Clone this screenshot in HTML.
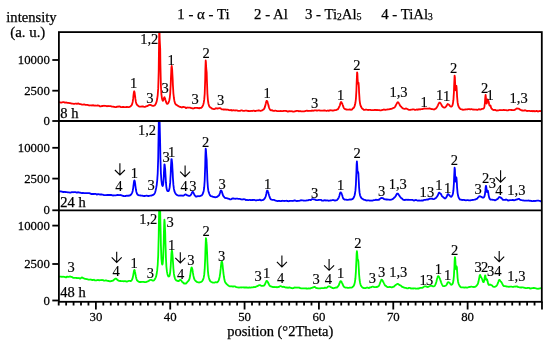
<!DOCTYPE html><html><head><meta charset="utf-8"><style>html,body{margin:0;padding:0;background:#fff;width:550px;height:348px;overflow:hidden}svg{display:block}text{font-family:"Liberation Serif","Times New Roman",serif;fill:#000;stroke:#000;stroke-width:0.25px}text.p{stroke-width:0.15px}</style></head><body>
<svg width="550" height="348" viewBox="0 0 550 348">
<defs><clipPath id="c1"><rect x="58.5" y="32" width="484" height="89"/></clipPath><clipPath id="c2"><rect x="58.5" y="121.2" width="484" height="89.5"/></clipPath><clipPath id="c3"><rect x="58.5" y="210.5" width="484" height="91.5"/></clipPath></defs>
<g clip-path="url(#c1)"><polyline points="58.4,102.3 58.6,102.2 58.9,102.1 59.1,102.1 59.4,102.2 59.6,102.3 59.9,102.3 60.1,102.4 60.4,102.5 60.6,102.5 60.9,102.6 61.1,102.6 61.4,102.6 61.6,102.5 61.9,102.4 62.1,102.4 62.4,102.3 62.6,102.2 62.9,102.2 63.1,102.2 63.4,102.2 63.6,102.2 63.9,102.2 64.2,102.3 64.4,102.4 64.7,102.6 64.9,102.7 65.2,102.7 65.4,102.6 65.7,102.5 65.9,102.5 66.2,102.5 66.4,102.6 66.7,102.7 66.9,102.7 67.2,102.8 67.4,102.8 67.7,102.8 67.9,102.8 68.2,102.8 68.4,102.9 68.7,102.9 68.9,103.0 69.2,103.0 69.4,103.1 69.7,103.1 69.9,103.1 70.2,103.2 70.4,103.2 70.7,103.3 70.9,103.3 71.2,103.4 71.4,103.5 71.7,103.6 71.9,103.7 72.2,103.7 72.4,103.7 72.7,103.7 72.9,103.7 73.2,103.7 73.4,103.8 73.7,103.8 73.9,103.9 74.2,103.9 74.4,103.8 74.7,103.8 74.9,103.7 75.2,103.7 75.4,103.7 75.7,103.6 75.9,103.6 76.2,103.6 76.4,103.7 76.7,103.8 76.9,103.8 77.2,103.8 77.4,103.6 77.7,103.5 77.9,103.3 78.2,103.4 78.4,103.5 78.7,103.6 78.9,103.8 79.2,103.9 79.4,104.0 79.7,104.1 79.9,104.2 80.2,104.2 80.4,104.2 80.7,104.2 80.9,104.2 81.2,104.3 81.4,104.4 81.7,104.5 81.9,104.6 82.2,104.7 82.4,104.7 82.7,104.7 82.9,104.7 83.2,104.7 83.4,104.6 83.7,104.5 83.9,104.4 84.2,104.4 84.4,104.5 84.7,104.6 84.9,104.7 85.2,104.8 85.4,104.8 85.7,104.8 85.9,104.8 86.2,104.8 86.4,104.8 86.7,104.9 86.9,104.9 87.2,104.9 87.4,104.9 87.7,105.0 87.9,105.0 88.2,105.1 88.4,105.2 88.7,105.3 88.9,105.4 89.2,105.5 89.4,105.4 89.7,105.4 89.9,105.4 90.2,105.4 90.4,105.4 90.7,105.4 90.9,105.4 91.2,105.4 91.4,105.4 91.7,105.5 91.9,105.5 92.2,105.5 92.4,105.4 92.7,105.2 92.9,105.1 93.2,105.2 93.4,105.3 93.7,105.5 93.9,105.6 94.2,105.7 94.4,105.6 94.7,105.5 94.9,105.5 95.2,105.5 95.4,105.6 95.7,105.7 95.9,105.7 96.2,105.7 96.4,105.7 96.7,105.6 96.9,105.6 97.2,105.5 97.4,105.5 97.7,105.5 97.9,105.5 98.2,105.5 98.4,105.6 98.7,105.6 98.9,105.7 99.2,105.8 99.4,105.9 99.7,106.1 99.9,106.3 100.2,106.3 100.4,106.3 100.7,106.3 100.9,106.3 101.2,106.3 101.4,106.2 101.7,106.1 101.9,106.0 102.2,106.0 102.4,106.0 102.7,106.0 102.9,105.9 103.2,105.9 103.4,105.9 103.7,105.8 103.9,105.7 104.2,105.8 104.4,105.8 104.7,105.9 104.9,105.9 105.2,105.9 105.4,105.9 105.7,105.9 105.9,105.9 106.2,106.0 106.4,106.1 106.7,106.2 106.9,106.3 107.2,106.3 107.4,106.2 107.7,106.1 107.9,106.0 108.2,106.0 108.4,106.1 108.7,106.1 108.9,106.1 109.2,106.1 109.4,106.1 109.7,106.1 109.9,106.1 110.2,106.1 110.4,106.2 110.7,106.2 110.9,106.2 111.2,106.3 111.4,106.4 111.7,106.5 111.9,106.6 112.2,106.6 112.4,106.6 112.7,106.7 112.9,106.7 113.2,106.7 113.4,106.7 113.7,106.8 113.9,106.8 114.2,106.9 114.4,106.9 114.7,107.0 114.9,107.0 115.2,107.1 115.4,107.1 115.7,107.1 115.9,107.1 116.2,107.1 116.4,106.9 116.7,106.8 116.9,106.6 117.2,106.6 117.4,106.7 117.7,106.7 117.9,106.8 118.2,106.7 118.4,106.6 118.7,106.5 118.9,106.4 119.2,106.4 119.4,106.5 119.7,106.5 119.9,106.6 120.2,106.7 120.4,106.9 120.7,107.0 120.9,107.2 121.2,107.2 121.4,107.2 121.7,107.1 121.9,107.1 122.2,107.1 122.4,107.0 122.7,107.0 122.9,107.0 123.2,107.0 123.4,107.0 123.7,107.0 123.9,107.1 124.2,107.1 124.4,107.1 124.7,107.1 124.9,107.1 125.2,107.1 125.4,107.1 125.7,107.1 125.9,107.1 126.2,107.1 126.4,107.0 126.7,107.0 126.9,106.9 127.2,106.9 127.4,107.0 127.7,107.1 127.9,107.1 128.2,107.2 128.4,107.2 128.7,107.1 128.9,107.1 129.2,107.0 129.4,106.9 129.7,106.8 129.9,106.6 130.2,106.5 130.4,106.3 130.7,106.2 130.9,106.0 131.2,105.7 131.4,105.4 131.7,105.1 131.9,104.6 132.2,103.9 132.4,103.1 132.7,101.9 132.9,100.3 133.2,98.4 133.4,96.1 133.7,93.7 133.9,92.0 134.2,91.3 134.4,91.8 134.7,93.0 134.9,94.8 135.2,96.9 135.4,98.9 135.7,100.6 135.9,102.0 136.2,103.0 136.4,103.7 136.7,104.2 136.9,104.6 137.2,104.9 137.4,105.2 137.7,105.4 137.9,105.6 138.2,105.8 138.4,106.0 138.7,106.2 138.9,106.4 139.2,106.5 139.4,106.6 139.7,106.7 139.9,106.7 140.2,106.7 140.4,106.7 140.7,106.7 140.9,106.7 141.2,106.6 141.4,106.6 141.7,106.5 141.9,106.4 142.2,106.4 142.4,106.5 142.7,106.5 142.9,106.5 143.2,106.5 143.4,106.6 143.7,106.7 143.9,106.8 144.2,106.8 144.4,106.9 144.7,106.9 144.9,106.9 145.2,106.8 145.4,106.7 145.7,106.5 145.9,106.4 146.2,106.3 146.4,106.3 146.7,106.2 146.9,106.2 147.2,106.1 147.4,105.9 147.7,105.8 147.9,105.6 148.2,105.5 148.4,105.3 148.7,105.2 148.9,105.1 149.2,105.0 149.4,105.0 149.7,104.9 149.9,104.9 150.2,104.9 150.4,105.0 150.7,105.0 150.9,105.1 151.2,105.2 151.4,105.3 151.7,105.5 151.9,105.6 152.2,105.7 152.4,105.8 152.7,105.8 152.9,105.9 153.2,105.9 153.4,105.9 153.7,105.8 153.9,105.7 154.2,105.6 154.4,105.5 154.7,105.4 154.9,105.2 155.2,104.9 155.4,104.5 155.7,104.0 155.9,103.5 156.2,102.9 156.4,102.2 156.7,101.3 156.9,100.2 157.2,99.0 157.4,97.4 157.7,95.3 157.9,92.5 158.2,88.4 158.4,82.1 158.7,71.3 158.9,54.0 159.2,33.0 159.4,27.7 159.7,39.1 159.9,43.4 160.2,48.8 160.4,64.0 160.7,77.3 160.9,85.7 161.2,90.8 161.4,94.1 161.7,96.4 161.9,98.1 162.2,99.3 162.4,100.1 162.7,100.6 162.9,100.8 163.2,100.6 163.4,100.0 163.7,99.1 163.9,98.2 164.2,97.5 164.4,97.2 164.7,97.5 164.9,98.1 165.2,98.9 165.4,99.8 165.7,100.7 165.9,101.6 166.2,102.3 166.4,102.9 166.7,103.4 166.9,103.7 167.2,103.8 167.4,103.8 167.7,103.7 167.9,103.5 168.2,103.2 168.4,102.8 168.7,102.2 168.9,101.5 169.2,100.7 169.4,99.7 169.7,98.3 169.9,96.3 170.2,93.5 170.4,89.7 170.7,84.7 170.9,78.7 171.2,72.3 171.4,67.4 171.7,66.0 171.9,67.4 172.2,70.2 172.4,74.2 172.7,79.5 172.9,85.0 173.2,89.7 173.4,93.3 173.7,96.0 173.9,98.0 174.2,99.6 174.4,100.9 174.7,102.0 174.9,102.9 175.2,103.5 175.4,103.9 175.7,104.3 175.9,104.5 176.2,104.7 176.4,104.9 176.7,105.0 176.9,105.1 177.2,105.3 177.4,105.5 177.7,105.7 177.9,105.8 178.2,106.0 178.4,106.2 178.7,106.3 178.9,106.4 179.2,106.5 179.4,106.7 179.7,106.8 179.9,106.9 180.2,106.9 180.4,107.0 180.7,107.0 180.9,107.1 181.2,107.2 181.4,107.3 181.7,107.4 181.9,107.5 182.2,107.4 182.4,107.2 182.7,107.1 182.9,106.9 183.2,106.9 183.4,106.9 183.7,107.0 183.9,107.0 184.2,107.1 184.4,107.2 184.7,107.2 184.9,107.3 185.2,107.4 185.4,107.6 185.7,107.8 185.9,108.0 186.2,108.0 186.4,107.8 186.7,107.7 186.9,107.6 187.2,107.5 187.4,107.6 187.7,107.6 187.9,107.7 188.2,107.7 188.4,107.6 188.7,107.6 188.9,107.6 189.2,107.6 189.4,107.6 189.7,107.6 189.9,107.6 190.2,107.7 190.4,107.8 190.7,107.9 190.9,108.0 191.2,108.1 191.4,108.1 191.7,108.1 191.9,108.2 192.2,108.3 192.4,108.4 192.7,108.4 192.9,108.5 193.2,108.5 193.4,108.4 193.7,108.3 193.9,108.1 194.2,108.1 194.4,108.0 194.7,108.0 194.9,107.9 195.2,107.9 195.4,107.9 195.7,107.9 195.9,107.9 196.2,107.9 196.4,107.9 196.7,107.9 196.9,107.9 197.2,108.0 197.4,108.0 197.7,107.9 197.9,107.9 198.2,108.0 198.4,108.1 198.7,108.2 198.9,108.3 199.2,108.3 199.4,108.1 199.7,108.0 199.9,107.9 200.2,107.9 200.4,107.9 200.7,108.0 200.9,108.0 201.2,107.9 201.4,107.7 201.7,107.4 201.9,107.1 202.2,106.8 202.4,106.4 202.7,106.0 202.9,105.4 203.2,104.8 203.4,104.0 203.7,103.0 203.9,101.7 204.2,99.9 204.4,97.4 204.7,93.7 204.9,87.9 205.2,79.4 205.4,68.6 205.7,60.5 205.9,62.1 206.2,67.7 206.4,69.9 206.7,72.5 206.9,79.7 207.2,87.5 207.4,93.5 207.7,97.5 207.9,100.1 208.2,102.0 208.4,103.4 208.7,104.5 208.9,105.4 209.2,106.0 209.4,106.5 209.7,106.8 209.9,107.1 210.2,107.3 210.4,107.5 210.7,107.6 210.9,107.7 211.2,107.9 211.4,108.1 211.7,108.4 211.9,108.6 212.2,108.7 212.4,108.7 212.7,108.8 212.9,108.8 213.2,108.8 213.4,109.0 213.7,109.1 213.9,109.2 214.2,109.1 214.4,109.1 214.7,109.0 214.9,108.9 215.2,108.7 215.4,108.5 215.7,108.4 215.9,108.2 216.2,108.2 216.4,108.3 216.7,108.4 216.9,108.5 217.2,108.5 217.4,108.5 217.7,108.5 217.9,108.4 218.2,108.4 218.4,108.3 218.7,108.3 218.9,108.3 219.2,108.2 219.4,108.1 219.7,108.1 219.9,108.1 220.2,108.2 220.4,108.3 220.7,108.5 220.9,108.7 221.2,108.8 221.4,109.0 221.7,109.1 221.9,109.3 222.2,109.4 222.4,109.4 222.7,109.4 222.9,109.4 223.2,109.5 223.4,109.5 223.7,109.5 223.9,109.6 224.2,109.6 224.4,109.5 224.7,109.5 224.9,109.4 225.2,109.4 225.4,109.5 225.7,109.6 225.9,109.7 226.2,109.8 226.4,109.7 226.7,109.7 226.9,109.7 227.2,109.7 227.4,109.7 227.7,109.7 227.9,109.7 228.2,109.8 228.4,109.9 228.7,110.0 228.9,110.0 229.2,110.1 229.4,110.2 229.7,110.2 229.9,110.3 230.2,110.3 230.4,110.2 230.7,110.1 230.9,110.0 231.2,110.0 231.4,110.2 231.7,110.3 231.9,110.5 232.2,110.5 232.4,110.4 232.7,110.3 232.9,110.2 233.2,110.2 233.4,110.2 233.7,110.3 233.9,110.3 234.2,110.4 234.4,110.4 234.7,110.4 234.9,110.5 235.2,110.5 235.4,110.5 235.7,110.4 235.9,110.4 236.2,110.4 236.4,110.4 236.7,110.4 236.9,110.4 237.2,110.5 237.4,110.6 237.7,110.7 237.9,110.8 238.2,110.9 238.4,110.9 238.7,110.9 238.9,110.9 239.2,110.9 239.4,110.9 239.7,110.9 239.9,110.8 240.2,110.8 240.4,110.6 240.7,110.5 240.9,110.3 241.2,110.3 241.4,110.3 241.7,110.3 241.9,110.4 242.2,110.4 242.4,110.6 242.7,110.7 242.9,110.8 243.2,110.9 243.4,110.9 243.7,110.9 243.9,110.9 244.2,110.9 244.4,110.8 244.7,110.8 244.9,110.7 245.2,110.7 245.4,110.7 245.7,110.7 245.9,110.6 246.2,110.7 246.4,110.7 246.7,110.7 246.9,110.7 247.2,110.8 247.4,110.8 247.7,110.9 247.9,111.0 248.2,111.0 248.4,111.0 248.7,111.0 248.9,111.0 249.2,111.0 249.4,111.1 249.7,111.1 249.9,111.2 250.2,111.1 250.4,111.0 250.7,110.9 250.9,110.8 251.2,110.8 251.4,110.9 251.7,110.9 251.9,111.0 252.2,111.0 252.4,110.9 252.7,110.9 252.9,110.8 253.2,110.7 253.4,110.7 253.7,110.7 253.9,110.7 254.2,110.7 254.4,110.8 254.7,111.0 254.9,111.1 255.2,111.1 255.4,111.0 255.7,111.0 255.9,110.9 256.1,110.8 256.4,110.8 256.6,110.7 256.9,110.7 257.1,110.7 257.4,110.6 257.6,110.6 257.9,110.6 258.1,110.5 258.4,110.5 258.6,110.5 258.9,110.4 259.1,110.5 259.4,110.5 259.6,110.6 259.9,110.7 260.1,110.8 260.4,110.8 260.6,110.8 260.9,110.8 261.1,110.7 261.4,110.7 261.6,110.6 261.9,110.5 262.1,110.4 262.4,110.2 262.6,110.1 262.9,109.9 263.1,109.8 263.4,109.6 263.6,109.4 263.9,109.2 264.1,108.8 264.4,108.3 264.6,107.8 264.9,107.1 265.1,106.3 265.4,105.4 265.6,104.3 265.9,103.2 266.1,102.2 266.4,101.4 266.6,100.9 266.9,100.8 267.1,101.1 267.4,101.5 267.6,102.2 267.9,103.0 268.1,104.0 268.4,105.0 268.6,106.1 268.9,107.0 269.1,107.8 269.4,108.4 269.6,108.9 269.9,109.4 270.1,109.7 270.4,110.0 270.6,110.2 270.9,110.3 271.1,110.4 271.4,110.3 271.6,110.2 271.9,110.1 272.1,110.1 272.4,110.4 272.6,110.6 272.9,110.8 273.1,110.9 273.4,110.9 273.6,110.9 273.9,110.9 274.1,110.9 274.4,110.9 274.6,110.8 274.9,110.7 275.1,110.7 275.4,110.7 275.6,110.7 275.9,110.7 276.1,110.8 276.4,110.9 276.6,110.9 276.9,111.0 277.1,111.1 277.4,111.1 277.6,111.2 277.9,111.2 278.1,111.2 278.4,111.2 278.6,111.2 278.9,111.2 279.1,111.2 279.4,111.2 279.6,111.1 279.9,111.1 280.1,111.1 280.4,111.0 280.6,111.0 280.9,111.0 281.1,111.0 281.4,111.1 281.6,111.1 281.9,111.2 282.1,111.2 282.4,111.1 282.6,111.1 282.9,111.1 283.1,111.0 283.4,111.0 283.6,110.9 283.9,110.9 284.1,110.8 284.4,110.8 284.6,110.8 284.9,110.8 285.1,110.9 285.4,110.9 285.6,110.9 285.9,111.0 286.1,111.0 286.4,111.0 286.6,111.1 286.9,111.1 287.1,111.2 287.4,111.4 287.6,111.5 287.9,111.7 288.1,111.6 288.4,111.5 288.6,111.3 288.9,111.2 289.1,111.1 289.4,111.2 289.6,111.2 289.9,111.3 290.1,111.3 290.4,111.3 290.6,111.2 290.9,111.2 291.1,111.2 291.4,111.2 291.6,111.3 291.9,111.3 292.1,111.3 292.4,111.4 292.6,111.5 292.9,111.5 293.1,111.6 293.4,111.6 293.6,111.6 293.9,111.6 294.1,111.6 294.4,111.5 294.6,111.4 294.9,111.3 295.1,111.3 295.4,111.2 295.6,111.1 295.9,111.1 296.1,111.0 296.4,110.9 296.6,110.8 296.9,110.8 297.1,110.8 297.4,110.8 297.6,110.8 297.9,110.9 298.1,111.0 298.4,111.1 298.6,111.2 298.9,111.3 299.1,111.3 299.4,111.2 299.6,111.2 299.9,111.1 300.1,111.1 300.4,111.2 300.6,111.2 300.9,111.3 301.1,111.3 301.4,111.3 301.6,111.3 301.9,111.3 302.1,111.3 302.4,111.3 302.6,111.3 302.9,111.3 303.1,111.3 303.4,111.3 303.6,111.4 303.9,111.4 304.1,111.4 304.4,111.3 304.6,111.2 304.9,111.2 305.1,111.1 305.4,111.0 305.6,111.0 305.9,110.9 306.1,110.8 306.4,110.8 306.6,110.7 306.9,110.6 307.1,110.7 307.4,110.8 307.6,110.9 307.9,111.0 308.1,111.0 308.4,110.9 308.6,110.9 308.9,110.9 309.1,110.8 309.4,110.8 309.6,110.8 309.9,110.8 310.1,110.8 310.4,110.8 310.6,110.9 310.9,110.9 311.1,110.9 311.4,110.8 311.6,110.6 311.9,110.5 312.1,110.5 312.4,110.6 312.6,110.7 312.9,110.8 313.1,110.8 313.4,110.7 313.6,110.7 313.9,110.7 314.1,110.6 314.4,110.5 314.6,110.4 314.9,110.3 315.1,110.3 315.4,110.3 315.6,110.3 315.9,110.3 316.1,110.3 316.4,110.4 316.6,110.6 316.9,110.7 317.1,110.7 317.4,110.6 317.6,110.5 317.9,110.4 318.1,110.4 318.4,110.4 318.6,110.4 318.9,110.4 319.1,110.4 319.4,110.4 319.6,110.5 319.9,110.5 320.1,110.5 320.4,110.6 320.6,110.6 320.9,110.6 321.1,110.6 321.4,110.6 321.6,110.6 321.9,110.6 322.1,110.6 322.4,110.6 322.6,110.6 322.9,110.6 323.1,110.6 323.4,110.6 323.6,110.5 323.9,110.5 324.1,110.5 324.4,110.5 324.6,110.5 324.9,110.5 325.1,110.5 325.4,110.6 325.6,110.7 325.9,110.7 326.1,110.8 326.4,110.8 326.6,110.8 326.9,110.8 327.1,110.7 327.4,110.7 327.6,110.6 327.9,110.5 328.1,110.6 328.4,110.7 328.6,110.8 328.9,110.9 329.1,110.8 329.4,110.6 329.6,110.4 329.9,110.2 330.1,110.2 330.4,110.2 330.6,110.3 330.9,110.3 331.1,110.3 331.4,110.4 331.6,110.4 331.9,110.5 332.1,110.5 332.4,110.5 332.6,110.6 332.9,110.6 333.1,110.6 333.4,110.5 333.6,110.5 333.9,110.4 334.1,110.4 334.4,110.3 334.6,110.2 334.9,110.1 335.1,110.1 335.4,110.1 335.6,110.1 335.9,110.1 336.1,110.0 336.4,109.9 336.6,109.8 336.9,109.7 337.1,109.6 337.4,109.5 337.6,109.4 337.9,109.3 338.1,109.0 338.4,108.5 338.6,108.0 338.9,107.5 339.1,107.0 339.4,106.5 339.6,106.0 339.9,105.3 340.1,104.5 340.4,103.6 340.6,102.7 340.9,102.2 341.1,102.0 341.4,102.1 341.6,102.5 341.9,103.0 342.1,103.5 342.4,104.0 342.6,104.7 342.9,105.5 343.1,106.2 343.4,106.9 343.6,107.5 343.9,108.0 344.1,108.3 344.4,108.6 344.6,108.8 344.9,108.9 345.1,109.0 345.4,109.2 345.6,109.3 345.9,109.4 346.1,109.5 346.4,109.5 346.6,109.5 346.9,109.5 347.1,109.6 347.4,109.6 347.6,109.6 347.9,109.7 348.1,109.7 348.4,109.7 348.6,109.7 348.9,109.7 349.1,109.6 349.4,109.5 349.6,109.5 349.9,109.4 350.1,109.5 350.4,109.6 350.6,109.7 350.9,109.8 351.1,109.8 351.4,109.7 351.6,109.7 351.9,109.6 352.1,109.4 352.4,109.1 352.6,108.7 352.9,108.4 353.1,108.2 353.4,108.1 353.6,107.9 353.9,107.7 354.1,107.3 354.4,106.7 354.6,106.0 354.9,105.1 355.1,104.2 355.4,103.0 355.6,101.3 355.9,99.0 356.1,95.6 356.4,90.6 356.6,84.2 356.9,77.0 357.1,72.3 357.4,73.7 357.6,78.7 357.9,82.6 358.1,83.5 358.4,82.5 358.6,83.3 358.9,87.5 359.1,92.6 359.4,96.9 359.6,100.1 359.9,102.3 360.1,103.8 360.4,104.9 360.6,105.7 360.9,106.3 361.1,106.8 361.4,107.3 361.6,107.7 361.9,108.1 362.1,108.4 362.4,108.6 362.6,108.8 362.9,109.0 363.1,109.3 363.4,109.5 363.6,109.7 363.9,109.9 364.1,109.9 364.4,109.9 364.6,109.9 364.9,109.8 365.1,109.8 365.4,109.7 365.6,109.7 365.9,109.6 366.1,109.6 366.4,109.6 366.6,109.7 366.9,109.7 367.1,109.8 367.4,109.9 367.6,109.9 367.9,110.0 368.1,110.0 368.4,110.0 368.6,109.9 368.9,109.9 369.1,109.8 369.4,109.8 369.6,109.8 369.9,109.8 370.1,109.8 370.4,109.9 370.6,110.0 370.9,110.1 371.1,110.1 371.4,110.1 371.6,110.1 371.9,110.1 372.1,110.1 372.4,110.2 372.6,110.2 372.9,110.2 373.1,110.2 373.4,110.1 373.6,110.1 373.9,110.1 374.1,110.0 374.4,110.0 374.6,110.0 374.9,109.9 375.1,109.9 375.4,110.0 375.6,110.0 375.9,110.0 376.1,110.0 376.4,110.0 376.6,110.0 376.9,110.1 377.1,110.1 377.4,110.1 377.6,110.0 377.9,110.0 378.1,110.1 378.4,110.1 378.6,110.1 378.9,110.2 379.1,110.2 379.4,110.2 379.6,110.2 379.9,110.3 380.1,110.3 380.4,110.3 380.6,110.3 380.9,110.3 381.1,110.3 381.4,110.2 381.6,110.2 381.9,110.2 382.1,110.1 382.4,110.0 382.6,109.9 382.9,109.8 383.1,109.8 383.4,109.7 383.6,109.6 383.9,109.5 384.1,109.6 384.4,109.6 384.6,109.7 384.9,109.8 385.1,109.8 385.4,109.8 385.6,109.8 385.9,109.7 386.1,109.7 386.4,109.7 386.6,109.7 386.9,109.7 387.1,109.6 387.4,109.5 387.6,109.4 387.9,109.3 388.1,109.3 388.4,109.3 388.6,109.3 388.9,109.3 389.1,109.3 389.4,109.2 389.6,109.2 389.9,109.1 390.1,109.1 390.4,109.0 390.6,109.0 390.9,108.9 391.1,108.9 391.4,108.8 391.6,108.8 391.9,108.7 392.1,108.6 392.4,108.5 392.6,108.3 392.9,108.2 393.1,108.1 393.4,108.0 393.6,107.9 393.9,107.8 394.1,107.7 394.4,107.5 394.6,107.3 394.9,107.1 395.1,106.8 395.4,106.3 395.6,105.8 395.9,105.2 396.1,104.7 396.4,104.2 396.6,103.8 396.9,103.3 397.1,102.9 397.4,102.6 397.6,102.3 397.9,102.2 398.1,102.3 398.4,102.5 398.6,102.8 398.9,103.2 399.1,103.6 399.4,104.1 399.6,104.7 399.9,105.2 400.1,105.6 400.4,105.9 400.6,106.2 400.9,106.4 401.1,106.6 401.4,106.9 401.6,107.2 401.9,107.4 402.1,107.7 402.4,107.9 402.6,108.2 402.9,108.4 403.1,108.5 403.4,108.6 403.6,108.7 403.9,108.7 404.1,108.8 404.4,108.8 404.6,108.8 404.9,108.9 405.1,108.8 405.4,108.7 405.6,108.6 405.9,108.5 406.1,108.5 406.4,108.6 406.6,108.7 406.9,108.8 407.1,108.9 407.4,109.1 407.6,109.2 407.9,109.3 408.1,109.5 408.4,109.6 408.6,109.7 408.9,109.8 409.1,109.9 409.4,109.9 409.6,109.9 409.9,109.9 410.1,109.9 410.4,109.8 410.6,109.8 410.9,109.7 411.1,109.7 411.4,109.7 411.6,109.7 411.9,109.6 412.1,109.6 412.4,109.5 412.6,109.4 412.9,109.3 413.1,109.3 413.4,109.3 413.6,109.4 413.9,109.4 414.1,109.4 414.4,109.6 414.6,109.7 414.9,109.9 415.1,109.9 415.4,109.9 415.6,109.8 415.9,109.8 416.1,109.7 416.4,109.6 416.6,109.5 416.9,109.4 417.1,109.5 417.4,109.6 417.6,109.7 417.9,109.8 418.1,109.7 418.4,109.5 418.6,109.4 418.9,109.2 419.1,109.2 419.4,109.3 419.6,109.4 419.9,109.5 420.1,109.5 420.4,109.4 420.6,109.3 420.9,109.2 421.1,109.2 421.4,109.2 421.6,109.1 421.9,109.1 422.1,109.1 422.4,109.0 422.6,109.0 422.9,109.0 423.1,108.9 423.4,108.8 423.6,108.7 423.9,108.6 424.1,108.5 424.4,108.5 424.6,108.6 424.9,108.7 425.1,108.7 425.4,108.7 425.6,108.6 425.9,108.6 426.1,108.6 426.4,108.7 426.6,108.7 426.9,108.7 427.1,108.7 427.4,108.7 427.6,108.7 427.9,108.7 428.1,108.7 428.4,108.6 428.6,108.6 428.9,108.5 429.1,108.5 429.4,108.5 429.6,108.5 429.9,108.5 430.1,108.6 430.4,108.7 430.6,108.8 430.9,108.9 431.1,109.0 431.4,109.0 431.6,109.1 431.9,109.1 432.1,109.1 432.4,109.2 432.6,109.2 432.9,109.2 433.1,109.3 433.4,109.4 433.6,109.4 433.9,109.5 434.1,109.5 434.4,109.4 434.6,109.2 434.9,109.1 435.1,109.0 435.4,108.8 435.6,108.7 435.9,108.5 436.1,108.3 436.4,107.9 436.6,107.6 436.9,107.2 437.1,106.8 437.4,106.4 437.6,105.9 437.9,105.3 438.1,104.8 438.4,104.2 438.6,103.7 438.9,103.2 439.1,102.8 439.4,102.6 439.6,102.6 439.9,102.7 440.1,102.9 440.4,103.2 440.6,103.4 440.9,103.7 441.1,104.1 441.4,104.6 441.6,105.2 441.9,105.7 442.1,106.2 442.4,106.5 442.6,106.7 442.9,106.9 443.1,107.1 443.4,107.3 443.6,107.4 443.9,107.6 444.1,107.6 444.4,107.6 444.6,107.6 444.9,107.5 445.1,107.4 445.4,107.2 445.6,106.9 445.9,106.6 446.1,106.3 446.4,106.0 446.6,105.6 446.9,105.2 447.1,104.7 447.4,104.3 447.6,104.0 447.9,104.1 448.1,104.2 448.4,104.4 448.6,104.6 448.9,104.8 449.1,104.9 449.4,105.2 449.6,105.5 449.9,105.8 450.1,106.1 450.4,106.4 450.6,106.5 450.9,106.6 451.1,106.6 451.4,106.6 451.6,106.5 451.9,106.3 452.1,105.9 452.4,105.4 452.6,104.7 452.9,103.6 453.1,102.2 453.4,100.2 453.6,97.1 453.9,92.6 454.1,86.6 454.4,79.9 454.6,75.6 454.9,77.3 455.1,82.7 455.4,87.8 455.6,90.3 455.9,89.9 456.1,87.6 456.4,85.9 456.6,87.8 456.9,92.2 457.1,96.6 457.4,100.0 457.6,102.4 457.9,104.0 458.1,105.1 458.4,105.9 458.6,106.6 458.9,107.0 459.1,107.5 459.4,107.9 459.6,108.2 459.9,108.5 460.1,108.7 460.4,108.9 460.6,109.1 460.9,109.2 461.1,109.3 461.4,109.3 461.6,109.3 461.9,109.4 462.1,109.4 462.4,109.5 462.6,109.7 462.9,109.8 463.1,109.8 463.4,109.8 463.6,109.7 463.9,109.7 464.1,109.7 464.4,109.6 464.6,109.6 464.9,109.5 465.1,109.5 465.4,109.5 465.6,109.4 465.9,109.4 466.1,109.4 466.4,109.4 466.6,109.4 466.9,109.4 467.1,109.4 467.4,109.3 467.6,109.3 467.9,109.2 468.1,109.1 468.4,109.1 468.6,109.1 468.9,109.1 469.1,109.1 469.4,109.2 469.6,109.2 469.9,109.3 470.1,109.3 470.4,109.3 470.6,109.3 470.9,109.2 471.1,109.2 471.4,109.2 471.6,109.2 471.9,109.2 472.1,109.3 472.4,109.4 472.6,109.5 472.9,109.6 473.1,109.6 473.4,109.6 473.6,109.5 473.9,109.5 474.1,109.5 474.4,109.6 474.6,109.6 474.9,109.7 475.1,109.7 475.4,109.7 475.6,109.6 475.9,109.6 476.1,109.6 476.4,109.7 476.6,109.7 476.9,109.8 477.1,109.8 477.4,109.8 477.6,109.8 477.9,109.7 478.1,109.6 478.4,109.5 478.6,109.3 478.9,109.2 479.1,109.2 479.4,109.3 479.6,109.4 479.9,109.5 480.1,109.6 480.4,109.5 480.6,109.5 480.9,109.4 481.1,109.3 481.4,109.2 481.6,109.0 481.9,108.9 482.1,108.8 482.4,108.9 482.6,108.9 482.9,108.8 483.1,108.7 483.4,108.6 483.6,108.4 483.9,108.1 484.1,107.6 484.4,106.7 484.6,105.4 484.9,103.2 485.1,99.9 485.4,96.2 485.6,94.8 485.9,97.4 486.1,100.7 486.4,102.9 486.6,103.6 486.9,103.0 487.1,101.1 487.4,99.3 487.6,99.3 487.9,100.4 488.1,100.8 488.4,100.9 488.6,101.5 488.9,102.8 489.1,104.2 489.4,105.2 489.6,105.6 489.9,105.6 490.1,105.3 490.4,105.3 490.6,105.9 490.9,106.9 491.1,107.8 491.4,108.3 491.6,108.7 491.9,108.9 492.1,109.1 492.4,109.3 492.6,109.5 492.9,109.6 493.1,109.8 493.4,109.9 493.6,110.0 493.9,110.2 494.1,110.1 494.4,110.0 494.6,109.9 494.9,109.8 495.1,109.8 495.4,110.0 495.6,110.1 495.9,110.3 496.1,110.4 496.4,110.5 496.6,110.5 496.9,110.6 497.1,110.6 497.4,110.5 497.6,110.4 497.9,110.4 498.1,110.3 498.4,110.3 498.6,110.3 498.9,110.3 499.1,110.2 499.4,110.2 499.6,110.1 499.9,110.0 500.1,110.0 500.4,110.1 500.6,110.1 500.9,110.1 501.1,110.1 501.4,110.1 501.6,110.1 501.9,110.1 502.1,110.1 502.4,110.1 502.6,110.1 502.9,110.1 503.1,110.1 503.4,110.0 503.6,110.0 503.9,109.9 504.1,109.9 504.4,110.0 504.6,110.1 504.9,110.1 505.1,110.1 505.4,110.1 505.6,110.1 505.9,110.1 506.1,110.1 506.4,110.2 506.6,110.3 506.9,110.4 507.1,110.4 507.4,110.4 507.6,110.4 507.9,110.4 508.1,110.3 508.4,110.2 508.6,110.1 508.9,110.0 509.1,109.9 509.4,109.8 509.6,109.8 509.9,109.8 510.1,109.8 510.4,109.8 510.6,109.9 510.9,110.0 511.1,110.0 511.4,110.0 511.6,110.0 511.9,110.0 512.1,110.0 512.4,110.1 512.6,110.1 512.9,110.1 513.1,110.2 513.4,110.2 513.6,110.2 513.9,110.2 514.1,110.1 514.4,110.0 514.6,109.9 514.9,109.8 515.1,109.7 515.4,109.4 515.6,109.2 515.9,109.0 516.1,108.8 516.4,108.7 516.6,108.6 516.9,108.5 517.1,108.4 517.4,108.5 517.6,108.6 517.9,108.7 518.1,108.7 518.4,108.7 518.6,108.7 518.9,108.7 519.1,108.9 519.4,109.1 519.6,109.3 519.9,109.5 520.1,109.7 520.4,109.8 520.6,109.9 520.9,110.0 521.1,110.1 521.4,110.2 521.6,110.4 521.9,110.5 522.1,110.5 522.4,110.5 522.6,110.5 522.9,110.5 523.1,110.5 523.4,110.6 523.6,110.7 523.9,110.7 524.1,110.7 524.4,110.5 524.6,110.4 524.9,110.2 525.1,110.2 525.4,110.4 525.6,110.5 525.9,110.6 526.1,110.7 526.4,110.8 526.6,110.9 526.9,111.0 527.1,111.0 527.4,111.0 527.6,110.9 527.9,110.9 528.1,110.9 528.4,110.9 528.6,110.8 528.9,110.8 529.1,110.9 529.4,110.9 529.6,110.9 529.9,111.0 530.1,111.0 530.4,111.1 530.6,111.1 530.9,111.1 531.1,111.1 531.4,111.1 531.6,111.0 531.9,111.0 532.1,111.0 532.4,111.1 532.6,111.2 532.9,111.3 533.1,111.3 533.4,111.1 533.6,111.0 533.9,110.9 534.1,111.0 534.4,111.1 534.6,111.2 534.9,111.4 535.1,111.3 535.4,111.3 535.6,111.2 535.9,111.1 536.1,111.0 536.4,111.0 536.6,111.0 536.9,111.0 537.1,111.1 537.4,111.2 537.6,111.4 537.9,111.5 538.1,111.5 538.4,111.4 538.6,111.3 538.9,111.2 539.1,111.2 539.4,111.1 539.6,111.0 539.9,110.9 540.1,110.9 540.4,111.0 540.6,111.1 540.9,111.2 541.1,111.2 541.4,111.1 541.6,111.1 541.9,111.1" fill="none" stroke="#ff0000" stroke-width="1.8" stroke-linejoin="round"/></g>
<g clip-path="url(#c2)"><polyline points="58.4,191.2 58.6,191.2 58.9,191.2 59.1,191.3 59.4,191.3 59.6,191.4 59.9,191.5 60.1,191.5 60.4,191.4 60.6,191.4 60.9,191.4 61.1,191.4 61.4,191.5 61.6,191.6 61.9,191.7 62.1,191.7 62.4,191.8 62.6,191.9 62.9,192.0 63.1,192.0 63.4,192.0 63.6,192.0 63.9,192.0 64.2,192.0 64.4,192.0 64.7,191.9 64.9,191.9 65.2,192.0 65.4,192.0 65.7,192.1 65.9,192.2 66.2,192.2 66.4,192.2 66.7,192.2 66.9,192.2 67.2,192.2 67.4,192.3 67.7,192.3 67.9,192.4 68.2,192.4 68.4,192.4 68.7,192.3 68.9,192.3 69.2,192.3 69.4,192.5 69.7,192.6 69.9,192.7 70.2,192.7 70.4,192.6 70.7,192.5 70.9,192.5 71.2,192.4 71.4,192.3 71.7,192.2 71.9,192.2 72.2,192.1 72.4,192.2 72.7,192.2 72.9,192.3 73.2,192.3 73.4,192.2 73.7,192.2 73.9,192.2 74.2,192.2 74.4,192.2 74.7,192.1 74.9,192.1 75.2,192.1 75.4,192.2 75.7,192.2 75.9,192.3 76.2,192.4 76.4,192.5 76.7,192.5 76.9,192.6 77.2,192.6 77.4,192.5 77.7,192.3 77.9,192.2 78.2,192.2 78.4,192.3 78.7,192.4 78.9,192.5 79.2,192.5 79.4,192.6 79.7,192.6 79.9,192.7 80.2,192.7 80.4,192.7 80.7,192.8 80.9,192.8 81.2,192.9 81.4,193.0 81.7,193.1 81.9,193.1 82.2,193.1 82.4,193.0 82.7,193.0 82.9,192.9 83.2,192.9 83.4,193.0 83.7,193.1 83.9,193.2 84.2,193.2 84.4,193.2 84.7,193.2 84.9,193.2 85.2,193.2 85.4,193.2 85.7,193.2 85.9,193.2 86.2,193.2 86.4,193.2 86.7,193.2 86.9,193.2 87.2,193.2 87.4,193.2 87.7,193.2 87.9,193.2 88.2,193.1 88.4,193.1 88.7,193.1 88.9,193.1 89.2,193.1 89.4,193.2 89.7,193.3 89.9,193.3 90.2,193.5 90.4,193.6 90.7,193.7 90.9,193.9 91.2,194.0 91.4,194.0 91.7,194.0 91.9,194.0 92.2,194.0 92.4,194.0 92.7,194.0 92.9,194.0 93.2,194.0 93.4,194.0 93.7,194.0 93.9,194.0 94.2,194.0 94.4,194.0 94.7,193.9 94.9,193.9 95.2,193.9 95.4,193.9 95.7,194.0 95.9,194.0 96.2,194.2 96.4,194.3 96.7,194.4 96.9,194.6 97.2,194.5 97.4,194.4 97.7,194.2 97.9,194.1 98.2,194.1 98.4,194.2 98.7,194.2 98.9,194.3 99.2,194.4 99.4,194.4 99.7,194.5 99.9,194.5 100.2,194.5 100.4,194.5 100.7,194.5 100.9,194.5 101.2,194.5 101.4,194.5 101.7,194.5 101.9,194.5 102.2,194.6 102.4,194.6 102.7,194.7 102.9,194.7 103.2,194.8 103.4,194.9 103.7,195.0 103.9,195.1 104.2,195.1 104.4,195.1 104.7,195.1 104.9,195.1 105.2,195.1 105.4,195.1 105.7,195.1 105.9,195.2 106.2,195.1 106.4,195.1 106.7,195.0 106.9,195.0 107.2,195.0 107.4,195.0 107.7,195.0 107.9,195.0 108.2,195.0 108.4,195.0 108.7,195.0 108.9,195.0 109.2,195.0 109.4,195.0 109.7,195.0 109.9,195.0 110.2,195.0 110.4,195.0 110.7,195.0 110.9,194.9 111.2,195.0 111.4,195.0 111.7,195.1 111.9,195.2 112.2,195.3 112.4,195.4 112.7,195.4 112.9,195.5 113.2,195.5 113.4,195.5 113.7,195.4 113.9,195.4 114.2,195.3 114.4,195.3 114.7,195.3 114.9,195.3 115.2,195.3 115.4,195.3 115.7,195.3 115.9,195.3 116.2,195.3 116.4,195.2 116.7,195.1 116.9,195.1 117.2,195.0 117.4,195.0 117.7,195.0 117.9,195.0 118.2,195.0 118.4,195.0 118.7,195.1 118.9,195.1 119.2,195.1 119.4,195.1 119.7,195.1 119.9,195.0 120.2,195.0 120.4,195.0 120.7,195.1 120.9,195.1 121.2,195.1 121.4,195.3 121.7,195.4 121.9,195.5 122.2,195.6 122.4,195.7 122.7,195.8 122.9,195.8 123.2,195.9 123.4,196.0 123.7,196.0 123.9,196.1 124.2,196.1 124.4,196.1 124.7,196.1 124.9,196.1 125.2,196.0 125.4,196.0 125.7,196.0 125.9,196.0 126.2,195.9 126.4,195.8 126.7,195.7 126.9,195.6 127.2,195.6 127.4,195.7 127.7,195.8 127.9,195.9 128.2,195.9 128.4,195.8 128.7,195.6 128.9,195.5 129.2,195.5 129.4,195.5 129.7,195.5 129.9,195.5 130.2,195.3 130.4,195.1 130.7,194.9 130.9,194.6 131.2,194.3 131.4,194.0 131.7,193.6 131.9,193.2 132.2,192.6 132.4,191.9 132.7,190.9 132.9,189.7 133.2,188.1 133.4,186.2 133.7,184.1 133.9,182.1 134.2,180.8 134.4,180.4 134.7,180.9 134.9,182.0 135.2,183.8 135.4,185.8 135.7,187.8 135.9,189.5 136.2,190.9 136.4,192.0 136.7,192.8 136.9,193.5 137.2,194.0 137.4,194.4 137.7,194.6 137.9,194.9 138.2,195.0 138.4,195.2 138.7,195.2 138.9,195.3 139.2,195.4 139.4,195.4 139.7,195.4 139.9,195.4 140.2,195.4 140.4,195.5 140.7,195.5 140.9,195.6 141.2,195.6 141.4,195.6 141.7,195.6 141.9,195.6 142.2,195.7 142.4,195.7 142.7,195.8 142.9,195.8 143.2,195.8 143.4,195.9 143.7,196.0 143.9,196.1 144.2,196.1 144.4,196.0 144.7,196.0 144.9,196.0 145.2,195.9 145.4,195.9 145.7,195.8 145.9,195.8 146.2,195.7 146.4,195.7 146.7,195.7 146.9,195.7 147.2,195.7 147.4,195.8 147.7,195.9 147.9,196.0 148.2,196.0 148.4,196.0 148.7,196.0 148.9,195.9 149.2,195.8 149.4,195.8 149.7,195.8 149.9,195.7 150.2,195.7 150.4,195.6 150.7,195.6 150.9,195.6 151.2,195.5 151.4,195.5 151.7,195.5 151.9,195.4 152.2,195.3 152.4,195.2 152.7,195.1 152.9,194.9 153.2,194.8 153.4,194.6 153.7,194.5 153.9,194.3 154.2,194.0 154.4,193.7 154.7,193.2 154.9,192.8 155.2,192.1 155.4,191.2 155.7,190.2 155.9,189.1 156.2,187.9 156.4,186.7 156.7,185.1 156.9,183.2 157.2,180.8 157.4,177.8 157.7,173.5 157.9,167.3 158.2,158.0 158.4,144.7 158.7,128.4 158.9,114.5 159.2,112.2 159.4,118.3 159.7,123.9 159.9,132.7 160.2,145.6 160.4,157.7 160.7,166.8 160.9,173.2 161.2,177.6 161.4,180.5 161.7,182.7 161.9,184.2 162.2,185.2 162.4,185.8 162.7,186.0 162.9,185.5 163.2,184.2 163.4,181.8 163.7,178.0 163.9,173.0 164.2,167.7 164.4,164.4 164.7,164.8 164.9,166.8 165.2,169.5 165.4,173.4 165.7,178.1 165.9,182.2 166.2,185.3 166.4,187.5 166.7,188.9 166.9,189.9 167.2,190.5 167.4,190.9 167.7,191.1 167.9,191.2 168.2,191.2 168.4,191.1 168.7,190.8 168.9,190.3 169.2,189.6 169.4,188.6 169.7,187.2 169.9,185.2 170.2,182.4 170.4,178.6 170.7,173.7 170.9,168.0 171.2,162.4 171.4,159.1 171.7,159.1 171.9,161.0 172.2,163.9 172.4,168.1 172.7,173.1 172.9,177.9 173.2,181.9 173.4,184.9 173.7,187.2 173.9,188.9 174.2,190.1 174.4,191.1 174.7,191.8 174.9,192.4 175.2,192.9 175.4,193.4 175.7,193.8 175.9,194.1 176.2,194.4 176.4,194.6 176.7,194.8 176.9,195.0 177.2,195.1 177.4,195.2 177.7,195.3 177.9,195.4 178.2,195.5 178.4,195.6 178.7,195.7 178.9,195.7 179.2,195.7 179.4,195.7 179.7,195.6 179.9,195.5 180.2,195.5 180.4,195.5 180.7,195.6 180.9,195.6 181.2,195.6 181.4,195.6 181.7,195.5 181.9,195.5 182.2,195.6 182.4,195.6 182.7,195.7 182.9,195.8 183.2,195.7 183.4,195.6 183.7,195.5 183.9,195.3 184.2,195.2 184.4,195.0 184.7,194.8 184.9,194.6 185.2,194.5 185.4,194.4 185.7,194.4 185.9,194.5 186.2,194.7 186.4,194.8 186.7,195.0 186.9,195.2 187.2,195.3 187.4,195.4 187.7,195.5 187.9,195.5 188.2,195.6 188.4,195.7 188.7,195.8 188.9,195.9 189.2,195.9 189.4,195.9 189.7,195.8 189.9,195.7 190.2,195.5 190.4,195.4 190.7,195.1 190.9,194.8 191.2,194.4 191.4,193.9 191.7,193.3 191.9,192.7 192.2,192.2 192.4,191.9 192.7,191.8 192.9,191.9 193.2,192.2 193.4,192.7 193.7,193.2 193.9,193.7 194.2,194.3 194.4,194.8 194.7,195.3 194.9,195.6 195.2,195.9 195.4,196.1 195.7,196.3 195.9,196.5 196.2,196.5 196.4,196.5 196.7,196.5 196.9,196.5 197.2,196.4 197.4,196.3 197.7,196.2 197.9,196.1 198.2,196.1 198.4,196.2 198.7,196.2 198.9,196.3 199.2,196.3 199.4,196.2 199.7,196.2 199.9,196.1 200.2,196.0 200.4,195.9 200.7,195.8 200.9,195.7 201.2,195.6 201.4,195.5 201.7,195.4 201.9,195.2 202.2,194.9 202.4,194.5 202.7,194.0 202.9,193.4 203.2,192.7 203.4,191.9 203.7,190.9 203.9,189.5 204.2,187.5 204.4,184.7 204.7,180.5 204.9,174.4 205.2,165.9 205.4,155.9 205.7,148.6 205.9,149.4 206.2,154.1 206.4,156.8 206.7,160.0 206.9,166.8 207.2,174.4 207.4,180.4 207.7,184.7 207.9,187.6 208.2,189.6 208.4,190.9 208.7,192.0 208.9,192.7 209.2,193.4 209.4,194.1 209.7,194.6 209.9,195.1 210.2,195.5 210.4,195.7 210.7,195.9 210.9,196.1 211.2,196.2 211.4,196.3 211.7,196.3 211.9,196.3 212.2,196.4 212.4,196.5 212.7,196.7 212.9,196.8 213.2,196.9 213.4,196.9 213.7,197.0 213.9,197.0 214.2,197.0 214.4,197.1 214.7,197.2 214.9,197.3 215.2,197.3 215.4,197.3 215.7,197.2 215.9,197.2 216.2,197.2 216.4,197.1 216.7,197.1 216.9,197.0 217.2,196.8 217.4,196.6 217.7,196.4 217.9,196.1 218.2,195.9 218.4,195.9 218.7,195.7 218.9,195.5 219.2,195.1 219.4,194.5 219.7,193.9 219.9,193.1 220.2,192.2 220.4,191.4 220.7,190.8 220.9,190.4 221.2,190.4 221.4,190.7 221.7,191.2 221.9,191.9 222.2,192.7 222.4,193.6 222.7,194.4 222.9,195.2 223.2,195.8 223.4,196.2 223.7,196.5 223.9,196.7 224.2,197.0 224.4,197.3 224.7,197.6 224.9,197.8 225.2,197.9 225.4,198.0 225.7,198.1 225.9,198.2 226.2,198.2 226.4,198.2 226.7,198.2 226.9,198.2 227.2,198.3 227.4,198.4 227.7,198.5 227.9,198.6 228.2,198.7 228.4,198.7 228.7,198.8 228.9,198.8 229.2,198.9 229.4,199.0 229.7,199.1 229.9,199.3 230.2,199.3 230.4,199.3 230.7,199.3 230.9,199.3 231.2,199.2 231.4,199.1 231.7,198.9 231.9,198.7 232.2,198.6 232.4,198.5 232.7,198.5 232.9,198.4 233.2,198.4 233.4,198.5 233.7,198.5 233.9,198.6 234.2,198.7 234.4,198.7 234.7,198.7 234.9,198.8 235.2,198.8 235.4,198.8 235.7,198.7 235.9,198.7 236.2,198.7 236.4,198.6 236.7,198.6 236.9,198.6 237.2,198.6 237.4,198.7 237.7,198.7 237.9,198.8 238.2,198.8 238.4,198.8 238.7,198.8 238.9,198.8 239.2,198.8 239.4,198.8 239.7,198.8 239.9,198.9 240.2,199.0 240.4,199.1 240.7,199.2 240.9,199.3 241.2,199.4 241.4,199.4 241.7,199.4 241.9,199.5 242.2,199.5 242.4,199.4 242.7,199.4 242.9,199.3 243.2,199.3 243.4,199.3 243.7,199.2 243.9,199.2 244.2,199.2 244.4,199.3 244.7,199.3 244.9,199.4 245.2,199.5 245.4,199.7 245.7,199.8 245.9,200.0 246.2,200.0 246.4,200.0 246.7,199.9 246.9,199.8 247.2,199.9 247.4,200.0 247.7,200.1 247.9,200.2 248.2,200.2 248.4,200.1 248.7,200.1 248.9,200.0 249.2,199.9 249.4,199.9 249.7,199.9 249.9,199.9 250.2,200.0 250.4,200.0 250.7,200.1 250.9,200.2 251.2,200.2 251.4,200.1 251.7,200.0 251.9,200.0 252.2,200.0 252.4,200.0 252.7,200.0 252.9,200.1 253.2,200.0 253.4,200.0 253.7,199.9 253.9,199.8 254.2,199.9 254.4,199.9 254.7,200.0 254.9,200.1 255.2,200.2 255.4,200.3 255.7,200.4 255.9,200.4 256.1,200.4 256.4,200.3 256.6,200.3 256.9,200.2 257.1,200.1 257.4,200.2 257.6,200.2 257.9,200.2 258.1,200.2 258.4,200.1 258.6,200.1 258.9,200.1 259.1,200.0 259.4,199.8 259.6,199.7 259.9,199.6 260.1,199.7 260.4,199.9 260.6,200.1 260.9,200.4 261.1,200.4 261.4,200.4 261.6,200.3 261.9,200.2 262.1,200.2 262.4,200.1 262.6,200.1 262.9,200.0 263.1,199.9 263.4,199.8 263.6,199.6 263.9,199.4 264.1,199.2 264.4,198.9 264.6,198.5 264.9,198.1 265.1,197.6 265.4,197.1 265.6,196.5 265.9,195.8 266.1,194.7 266.4,193.4 266.6,192.2 266.9,191.2 267.1,190.7 267.4,190.6 267.6,190.9 267.9,191.3 268.1,192.0 268.4,192.7 268.6,193.7 268.9,194.6 269.1,195.5 269.4,196.3 269.6,197.0 269.9,197.6 270.1,198.2 270.4,198.6 270.6,199.0 270.9,199.3 271.1,199.5 271.4,199.6 271.6,199.7 271.9,199.7 272.1,199.8 272.4,199.8 272.6,199.8 272.9,199.8 273.1,199.8 273.4,199.9 273.6,199.9 273.9,199.9 274.1,200.0 274.4,200.1 274.6,200.2 274.9,200.3 275.1,200.4 275.4,200.5 275.6,200.6 275.9,200.7 276.1,200.8 276.4,200.8 276.6,200.8 276.9,200.9 277.1,200.9 277.4,201.0 277.6,201.1 277.9,201.2 278.1,201.1 278.4,201.0 278.6,200.9 278.9,200.8 279.1,200.8 279.4,200.9 279.6,201.0 279.9,201.0 280.1,201.0 280.4,201.1 280.6,201.1 280.9,201.1 281.1,201.1 281.4,201.0 281.6,201.0 281.9,200.9 282.1,200.9 282.4,200.8 282.6,200.8 282.9,200.7 283.1,200.8 283.4,200.8 283.6,200.9 283.9,201.0 284.1,201.0 284.4,201.0 284.6,200.9 284.9,200.8 285.1,200.8 285.4,200.8 285.6,200.8 285.9,200.8 286.1,200.8 286.4,200.8 286.6,200.7 286.9,200.7 287.1,200.8 287.4,200.9 287.6,201.1 287.9,201.2 288.1,201.3 288.4,201.2 288.6,201.2 288.9,201.1 289.1,201.1 289.4,201.0 289.6,201.0 289.9,200.9 290.1,200.9 290.4,200.9 290.6,200.9 290.9,200.9 291.1,200.9 291.4,200.9 291.6,200.9 291.9,200.9 292.1,200.9 292.4,200.9 292.6,200.9 292.9,201.0 293.1,200.9 293.4,200.8 293.6,200.7 293.9,200.6 294.1,200.5 294.4,200.5 294.6,200.5 294.9,200.5 295.1,200.5 295.4,200.6 295.6,200.7 295.9,200.8 296.1,200.9 296.4,201.0 296.6,201.0 296.9,201.1 297.1,201.1 297.4,201.0 297.6,200.9 297.9,200.8 298.1,200.8 298.4,200.8 298.6,200.8 298.9,200.8 299.1,200.8 299.4,200.8 299.6,200.7 299.9,200.7 300.1,200.6 300.4,200.5 300.6,200.4 300.9,200.2 301.1,200.2 301.4,200.3 301.6,200.3 301.9,200.4 302.1,200.4 302.4,200.4 302.6,200.4 302.9,200.3 303.1,200.4 303.4,200.5 303.6,200.6 303.9,200.7 304.1,200.7 304.4,200.7 304.6,200.7 304.9,200.7 305.1,200.7 305.4,200.6 305.6,200.6 305.9,200.6 306.1,200.6 306.4,200.5 306.6,200.4 306.9,200.3 307.1,200.3 307.4,200.3 307.6,200.3 307.9,200.4 308.1,200.3 308.4,200.2 308.6,200.0 308.9,199.9 309.1,199.8 309.4,199.9 309.6,199.9 309.9,199.9 310.1,200.0 310.4,200.0 310.6,200.0 310.9,200.0 311.1,199.9 311.4,199.7 311.6,199.4 311.9,199.2 312.1,199.1 312.4,199.1 312.6,199.1 312.9,199.1 313.1,199.2 313.4,199.2 313.6,199.3 313.9,199.4 314.1,199.4 314.4,199.4 314.6,199.5 314.9,199.5 315.1,199.6 315.4,199.7 315.6,199.9 315.9,200.0 316.1,200.1 316.4,200.1 316.6,200.2 316.9,200.2 317.1,200.2 317.4,200.2 317.6,200.2 317.9,200.2 318.1,200.1 318.4,200.0 318.6,199.9 318.9,199.8 319.1,199.8 319.4,199.8 319.6,199.8 319.9,199.9 320.1,199.8 320.4,199.8 320.6,199.8 320.9,199.8 321.1,199.9 321.4,200.2 321.6,200.4 321.9,200.6 322.1,200.7 322.4,200.7 322.6,200.6 322.9,200.6 323.1,200.6 323.4,200.5 323.6,200.5 323.9,200.5 324.1,200.4 324.4,200.3 324.6,200.2 324.9,200.1 325.1,200.2 325.4,200.3 325.6,200.5 325.9,200.6 326.1,200.6 326.4,200.5 326.6,200.4 326.9,200.3 327.1,200.3 327.4,200.4 327.6,200.5 327.9,200.6 328.1,200.7 328.4,200.7 328.6,200.7 328.9,200.8 329.1,200.7 329.4,200.7 329.6,200.6 329.9,200.6 330.1,200.5 330.4,200.5 330.6,200.4 330.9,200.3 331.1,200.3 331.4,200.3 331.6,200.3 331.9,200.3 332.1,200.2 332.4,200.2 332.6,200.1 332.9,200.0 333.1,200.0 333.4,200.1 333.6,200.1 333.9,200.2 334.1,200.3 334.4,200.4 334.6,200.5 334.9,200.5 335.1,200.5 335.4,200.5 335.6,200.4 335.9,200.4 336.1,200.3 336.4,200.3 336.6,200.2 336.9,200.1 337.1,199.9 337.4,199.6 337.6,199.3 337.9,199.0 338.1,198.7 338.4,198.3 338.6,197.9 338.9,197.3 339.1,196.6 339.4,195.8 339.6,194.8 339.9,193.9 340.1,193.1 340.4,192.5 340.6,192.3 340.9,192.4 341.1,192.7 341.4,193.1 341.6,193.6 341.9,194.2 342.1,195.0 342.4,195.9 342.6,196.8 342.9,197.6 343.1,198.2 343.4,198.6 343.6,198.9 343.9,199.1 344.1,199.3 344.4,199.5 344.6,199.6 344.9,199.7 345.1,199.7 345.4,199.7 345.6,199.6 345.9,199.6 346.1,199.6 346.4,199.7 346.6,199.8 346.9,199.9 347.1,199.9 347.4,199.9 347.6,199.9 347.9,199.9 348.1,199.8 348.4,199.8 348.6,199.7 348.9,199.7 349.1,199.6 349.4,199.6 349.6,199.5 349.9,199.5 350.1,199.5 350.4,199.5 350.6,199.5 350.9,199.6 351.1,199.5 351.4,199.5 351.6,199.4 351.9,199.2 352.1,199.1 352.4,199.1 352.6,198.9 352.9,198.8 353.1,198.5 353.4,198.2 353.6,197.8 353.9,197.3 354.1,196.7 354.4,196.0 354.6,195.2 354.9,194.1 355.1,192.7 355.4,190.9 355.6,188.4 355.9,184.6 356.1,179.2 356.4,172.3 356.6,165.1 356.9,161.4 357.1,163.9 357.4,169.1 357.6,172.6 357.9,172.9 358.1,171.9 358.4,173.5 358.6,178.2 358.9,183.4 359.1,187.7 359.4,190.8 359.6,192.9 359.9,194.4 360.1,195.5 360.4,196.2 360.6,196.8 360.9,197.3 361.1,197.7 361.4,198.0 361.6,198.3 361.9,198.5 362.1,198.7 362.4,198.8 362.6,198.9 362.9,199.0 363.1,199.2 363.4,199.4 363.6,199.5 363.9,199.7 364.1,199.8 364.4,199.9 364.6,199.9 364.9,199.9 365.1,200.0 365.4,200.1 365.6,200.2 365.9,200.3 366.1,200.3 366.4,200.4 366.6,200.5 366.9,200.5 367.1,200.5 367.4,200.4 367.6,200.3 367.9,200.3 368.1,200.3 368.4,200.3 368.6,200.3 368.9,200.3 369.1,200.4 369.4,200.5 369.6,200.6 369.9,200.6 370.1,200.7 370.4,200.6 370.6,200.6 370.9,200.5 371.1,200.5 371.4,200.6 371.6,200.6 371.9,200.6 372.1,200.6 372.4,200.6 372.6,200.5 372.9,200.4 373.1,200.4 373.4,200.3 373.6,200.2 373.9,200.1 374.1,200.1 374.4,200.1 374.6,200.1 374.9,200.1 375.1,200.0 375.4,199.9 375.6,199.8 375.9,199.7 376.1,199.7 376.4,199.8 376.6,199.9 376.9,200.0 377.1,200.0 377.4,199.9 377.6,199.8 377.9,199.8 378.1,199.7 378.4,199.8 378.6,199.8 378.9,199.8 379.1,199.6 379.4,199.4 379.6,199.1 379.9,198.8 380.1,198.6 380.4,198.5 380.6,198.3 380.9,198.2 381.1,198.1 381.4,198.0 381.6,198.0 381.9,198.0 382.1,198.0 382.4,198.1 382.6,198.1 382.9,198.2 383.1,198.4 383.4,198.5 383.6,198.7 383.9,198.9 384.1,199.1 384.4,199.2 384.6,199.2 384.9,199.3 385.1,199.4 385.4,199.4 385.6,199.4 385.9,199.5 386.1,199.5 386.4,199.5 386.6,199.5 386.9,199.5 387.1,199.5 387.4,199.5 387.6,199.6 387.9,199.6 388.1,199.7 388.4,199.7 388.6,199.7 388.9,199.6 389.1,199.7 389.4,199.7 389.6,199.8 389.9,199.8 390.1,199.8 390.4,199.8 390.6,199.7 390.9,199.7 391.1,199.6 391.4,199.6 391.6,199.5 391.9,199.4 392.1,199.3 392.4,199.2 392.6,199.1 392.9,199.0 393.1,198.8 393.4,198.6 393.6,198.3 393.9,198.0 394.1,197.8 394.4,197.6 394.6,197.4 394.9,197.1 395.1,196.8 395.4,196.5 395.6,196.2 395.9,195.8 396.1,195.3 396.4,194.8 396.6,194.3 396.9,193.9 397.1,193.7 397.4,193.6 397.6,193.6 397.9,193.7 398.1,193.9 398.4,194.2 398.6,194.5 398.9,194.9 399.1,195.3 399.4,195.6 399.6,196.0 399.9,196.3 400.1,196.7 400.4,197.1 400.6,197.4 400.9,197.7 401.1,198.0 401.4,198.2 401.6,198.3 401.9,198.5 402.1,198.7 402.4,199.0 402.6,199.3 402.9,199.5 403.1,199.7 403.4,199.8 403.6,199.8 403.9,199.9 404.1,199.9 404.4,200.0 404.6,200.0 404.9,200.0 405.1,200.0 405.4,199.9 405.6,199.8 405.9,199.7 406.1,199.7 406.4,199.7 406.6,199.8 406.9,199.8 407.1,199.8 407.4,199.8 407.6,199.8 407.9,199.7 408.1,199.7 408.4,199.8 408.6,199.8 408.9,199.8 409.1,199.8 409.4,199.8 409.6,199.8 409.9,199.8 410.1,199.8 410.4,199.8 410.6,199.9 410.9,199.9 411.1,199.9 411.4,199.9 411.6,199.9 411.9,199.8 412.1,199.9 412.4,199.9 412.6,200.0 412.9,200.1 413.1,200.2 413.4,200.3 413.6,200.5 413.9,200.6 414.1,200.6 414.4,200.5 414.6,200.3 414.9,200.2 415.1,200.1 415.4,200.1 415.6,200.0 415.9,200.0 416.1,200.0 416.4,200.1 416.6,200.2 416.9,200.3 417.1,200.4 417.4,200.5 417.6,200.6 417.9,200.6 418.1,200.6 418.4,200.6 418.6,200.5 418.9,200.5 419.1,200.5 419.4,200.5 419.6,200.6 419.9,200.6 420.1,200.6 420.4,200.6 420.6,200.6 420.9,200.6 421.1,200.6 421.4,200.5 421.6,200.5 421.9,200.5 422.1,200.5 422.4,200.5 422.6,200.6 422.9,200.6 423.1,200.5 423.4,200.3 423.6,200.2 423.9,200.0 424.1,199.9 424.4,199.9 424.6,199.9 424.9,199.9 425.1,199.9 425.4,199.8 425.6,199.8 425.9,199.8 426.1,199.7 426.4,199.6 426.6,199.6 426.9,199.5 427.1,199.5 427.4,199.5 427.6,199.5 427.9,199.6 428.1,199.5 428.4,199.4 428.6,199.2 428.9,199.1 429.1,199.0 429.4,198.9 429.6,198.7 429.9,198.6 430.1,198.6 430.4,198.6 430.6,198.7 430.9,198.8 431.1,198.8 431.4,198.7 431.6,198.7 431.9,198.6 432.1,198.6 432.4,198.8 432.6,198.9 432.9,199.0 433.1,199.1 433.4,199.1 433.6,199.1 433.9,199.1 434.1,199.0 434.4,198.9 434.6,198.8 434.9,198.6 435.1,198.5 435.4,198.3 435.6,198.2 435.9,198.0 436.1,197.7 436.4,197.4 436.6,197.1 436.9,196.7 437.1,196.3 437.4,196.0 437.6,195.6 437.9,195.2 438.1,194.6 438.4,193.9 438.6,193.3 438.9,192.8 439.1,192.6 439.4,192.6 439.6,192.9 439.9,193.2 440.1,193.5 440.4,193.6 440.6,193.7 440.9,194.0 441.1,194.3 441.4,194.9 441.6,195.4 441.9,195.9 442.1,196.3 442.4,196.5 442.6,196.7 442.9,196.8 443.1,197.1 443.4,197.3 443.6,197.5 443.9,197.7 444.1,197.9 444.4,198.1 444.6,198.3 444.9,198.4 445.1,198.4 445.4,198.3 445.6,198.1 445.9,197.8 446.1,197.5 446.4,197.2 446.6,196.7 446.9,196.2 447.1,195.6 447.4,195.0 447.6,194.5 447.9,194.2 448.1,194.1 448.4,194.3 448.6,194.5 448.9,194.8 449.1,195.1 449.4,195.3 449.6,195.5 449.9,195.8 450.1,196.1 450.4,196.4 450.6,196.6 450.9,196.8 451.1,196.8 451.4,196.7 451.6,196.4 451.9,196.1 452.1,195.7 452.4,195.3 452.6,194.7 452.9,193.8 453.1,192.5 453.4,190.5 453.6,187.7 453.9,183.5 454.1,177.9 454.4,171.7 454.6,167.7 454.9,169.4 455.1,174.6 455.4,179.2 455.6,181.6 455.9,181.2 456.1,179.0 456.4,177.5 456.6,179.3 456.9,183.5 457.1,187.7 457.4,190.9 457.6,193.1 457.9,194.7 458.1,195.8 458.4,196.7 458.6,197.4 458.9,197.9 459.1,198.4 459.4,198.8 459.6,199.2 459.9,199.5 460.1,199.6 460.4,199.7 460.6,199.7 460.9,199.6 461.1,199.7 461.4,199.8 461.6,199.9 461.9,199.9 462.1,200.0 462.4,200.0 462.6,199.9 462.9,199.9 463.1,199.9 463.4,199.9 463.6,199.9 463.9,200.0 464.1,200.0 464.4,200.0 464.6,200.1 464.9,200.1 465.1,200.2 465.4,200.2 465.6,200.3 465.9,200.4 466.1,200.3 466.4,200.3 466.6,200.2 466.9,200.2 467.1,200.1 467.4,200.1 467.6,200.1 467.9,200.1 468.1,200.2 468.4,200.2 468.6,200.3 468.9,200.4 469.1,200.4 469.4,200.4 469.6,200.4 469.9,200.3 470.1,200.3 470.4,200.3 470.6,200.3 470.9,200.2 471.1,200.2 471.4,200.2 471.6,200.1 471.9,200.1 472.1,200.0 472.4,200.0 472.6,199.9 472.9,199.8 473.1,199.8 473.4,199.8 473.6,199.8 473.9,199.8 474.1,199.7 474.4,199.7 474.6,199.7 474.9,199.6 475.1,199.6 475.4,199.5 475.6,199.3 475.9,199.2 476.1,199.1 476.4,199.0 476.6,198.9 476.9,198.8 477.1,198.6 477.4,198.3 477.6,198.0 477.9,197.7 478.1,197.4 478.4,197.2 478.6,196.9 478.9,196.7 479.1,196.5 479.4,196.3 479.6,196.2 479.9,196.2 480.1,196.3 480.4,196.4 480.6,196.5 480.9,196.7 481.1,196.8 481.4,196.9 481.6,197.0 481.9,197.1 482.1,197.3 482.4,197.4 482.6,197.6 482.9,197.6 483.1,197.6 483.4,197.6 483.6,197.4 483.9,197.2 484.1,196.9 484.4,196.5 484.6,195.7 484.9,194.6 485.1,192.8 485.4,190.4 485.6,187.7 485.9,185.8 486.1,186.0 486.4,187.8 486.6,190.0 486.9,191.5 487.1,192.1 487.4,191.7 487.6,190.9 487.9,190.7 488.1,191.8 488.4,193.5 488.6,195.1 488.9,196.4 489.1,197.4 489.4,198.1 489.6,198.6 489.9,199.0 490.1,199.3 490.4,199.4 490.6,199.6 490.9,199.7 491.1,199.7 491.4,199.7 491.6,199.7 491.9,199.6 492.1,199.6 492.4,199.7 492.6,199.8 492.9,199.9 493.1,199.9 493.4,199.9 493.6,199.9 493.9,199.9 494.1,200.0 494.4,200.1 494.6,200.2 494.9,200.3 495.1,200.3 495.4,200.2 495.6,200.1 495.9,199.9 496.1,199.8 496.4,199.7 496.6,199.5 496.9,199.4 497.1,199.2 497.4,199.1 497.6,198.9 497.9,198.7 498.1,198.4 498.4,198.1 498.6,197.7 498.9,197.4 499.1,197.2 499.4,197.1 499.6,197.0 499.9,197.1 500.1,197.2 500.4,197.4 500.6,197.6 500.9,197.7 501.1,197.9 501.4,198.1 501.6,198.3 501.9,198.5 502.1,198.8 502.4,199.1 502.6,199.5 502.9,199.8 503.1,199.9 503.4,199.9 503.6,199.9 503.9,199.9 504.1,199.9 504.4,199.9 504.6,199.9 504.9,199.9 505.1,199.9 505.4,199.8 505.6,199.6 505.9,199.5 506.1,199.5 506.4,199.6 506.6,199.7 506.9,199.8 507.1,199.9 507.4,200.1 507.6,200.3 507.9,200.5 508.1,200.6 508.4,200.5 508.6,200.5 508.9,200.4 509.1,200.4 509.4,200.3 509.6,200.2 509.9,200.1 510.1,200.1 510.4,200.2 510.6,200.2 510.9,200.2 511.1,200.2 511.4,200.2 511.6,200.1 511.9,200.1 512.1,200.1 512.4,200.0 512.6,200.0 512.9,199.9 513.1,200.0 513.4,200.1 513.6,200.2 513.9,200.3 514.1,200.3 514.4,200.2 514.6,200.2 514.9,200.1 515.1,200.0 515.4,199.9 515.6,199.8 515.9,199.7 516.1,199.6 516.4,199.6 516.6,199.5 516.9,199.5 517.1,199.5 517.4,199.3 517.6,199.2 517.9,199.1 518.1,199.0 518.4,198.9 518.6,198.9 518.9,198.8 519.1,198.9 519.4,199.2 519.6,199.4 519.9,199.6 520.1,199.7 520.4,199.8 520.6,199.9 520.9,200.0 521.1,200.1 521.4,200.2 521.6,200.2 521.9,200.2 522.1,200.3 522.4,200.3 522.6,200.3 522.9,200.3 523.1,200.4 523.4,200.4 523.6,200.5 523.9,200.6 524.1,200.6 524.4,200.6 524.6,200.7 524.9,200.7 525.1,200.7 525.4,200.7 525.6,200.7 525.9,200.7 526.1,200.7 526.4,200.7 526.6,200.7 526.9,200.7 527.1,200.7 527.4,200.7 527.6,200.7 527.9,200.6 528.1,200.6 528.4,200.6 528.6,200.5 528.9,200.5 529.1,200.6 529.4,200.7 529.6,200.8 529.9,200.9 530.1,200.9 530.4,200.9 530.6,200.8 530.9,200.7 531.1,200.8 531.4,200.9 531.6,201.0 531.9,201.2 532.1,201.2 532.4,201.2 532.6,201.1 532.9,201.1 533.1,201.1 533.4,201.0 533.6,201.0 533.9,200.9 534.1,200.9 534.4,201.0 534.6,201.0 534.9,201.1 535.1,201.1 535.4,201.0 535.6,200.9 535.9,200.8 536.1,200.8 536.4,200.8 536.6,200.7 536.9,200.7 537.1,200.7 537.4,200.7 537.6,200.7 537.9,200.7 538.1,200.7 538.4,200.7 538.6,200.7 538.9,200.7 539.1,200.8 539.4,200.8 539.6,200.9 539.9,200.9 540.1,201.0 540.4,201.1 540.6,201.2 540.9,201.4 541.1,201.4 541.4,201.3 541.6,201.3 541.9,201.2" fill="none" stroke="#0000ff" stroke-width="1.8" stroke-linejoin="round"/></g>
<g clip-path="url(#c3)"><polyline points="58.4,276.7 58.6,276.6 58.9,276.6 59.1,276.6 59.4,276.6 59.6,276.6 59.9,276.6 60.1,276.6 60.4,276.6 60.6,276.6 60.9,276.6 61.1,276.6 61.4,276.7 61.6,276.8 61.9,276.9 62.1,276.9 62.4,276.8 62.6,276.7 62.9,276.7 63.1,276.7 63.4,276.7 63.6,276.8 63.9,276.8 64.2,276.9 64.4,276.9 64.7,277.0 64.9,277.0 65.2,277.1 65.4,277.2 65.7,277.3 65.9,277.4 66.2,277.4 66.4,277.1 66.7,276.9 66.9,276.6 67.2,276.6 67.4,276.7 67.7,276.8 67.9,276.9 68.2,276.9 68.4,276.9 68.7,276.8 68.9,276.8 69.2,276.7 69.4,276.6 69.7,276.5 69.9,276.5 70.2,276.5 70.4,276.6 70.7,276.7 70.9,276.8 71.2,276.9 71.4,276.9 71.7,277.0 71.9,277.0 72.2,277.1 72.4,277.3 72.7,277.5 72.9,277.7 73.2,277.8 73.4,277.8 73.7,277.8 73.9,277.8 74.2,277.8 74.4,277.8 74.7,277.8 74.9,277.8 75.2,277.8 75.4,277.9 75.7,277.9 75.9,277.9 76.2,277.9 76.4,278.0 76.7,278.0 76.9,278.0 77.2,278.0 77.4,278.1 77.7,278.1 77.9,278.1 78.2,278.1 78.4,278.1 78.7,278.1 78.9,278.0 79.2,278.1 79.4,278.3 79.7,278.5 79.9,278.6 80.2,278.6 80.4,278.4 80.7,278.2 80.9,278.1 81.2,277.9 81.4,277.7 81.7,277.6 81.9,277.4 82.2,277.5 82.4,277.6 82.7,277.8 82.9,278.0 83.2,278.1 83.4,278.2 83.7,278.3 83.9,278.4 84.2,278.5 84.4,278.6 84.7,278.7 84.9,278.8 85.2,278.9 85.4,278.9 85.7,278.9 85.9,279.0 86.2,279.0 86.4,279.1 86.7,279.1 86.9,279.1 87.2,279.2 87.4,279.3 87.7,279.3 87.9,279.4 88.2,279.5 88.4,279.6 88.7,279.7 88.9,279.7 89.2,279.7 89.4,279.7 89.7,279.7 89.9,279.6 90.2,279.6 90.4,279.6 90.7,279.5 90.9,279.5 91.2,279.6 91.4,279.7 91.7,279.9 91.9,280.0 92.2,280.1 92.4,280.0 92.7,280.0 92.9,280.0 93.2,280.0 93.4,279.9 93.7,279.8 93.9,279.7 94.2,279.8 94.4,280.0 94.7,280.1 94.9,280.3 95.2,280.4 95.4,280.4 95.7,280.4 95.9,280.4 96.2,280.4 96.4,280.3 96.7,280.3 96.9,280.2 97.2,280.1 97.4,280.1 97.7,280.0 97.9,280.0 98.2,280.0 98.4,280.1 98.7,280.2 98.9,280.3 99.2,280.3 99.4,280.3 99.7,280.2 99.9,280.2 100.2,280.2 100.4,280.2 100.7,280.1 100.9,280.1 101.2,280.1 101.4,280.1 101.7,280.0 101.9,280.0 102.2,280.0 102.4,280.1 102.7,280.1 102.9,280.1 103.2,280.2 103.4,280.4 103.7,280.5 103.9,280.6 104.2,280.7 104.4,280.6 104.7,280.6 104.9,280.6 105.2,280.5 105.4,280.5 105.7,280.4 105.9,280.3 106.2,280.4 106.4,280.5 106.7,280.6 106.9,280.7 107.2,280.8 107.4,280.8 107.7,280.8 107.9,280.9 108.2,280.9 108.4,281.0 108.7,281.0 108.9,281.1 109.2,281.2 109.4,281.2 109.7,281.3 109.9,281.3 110.2,281.3 110.4,281.3 110.7,281.2 110.9,281.1 111.2,281.1 111.4,281.0 111.7,281.0 111.9,280.9 112.2,280.9 112.4,280.8 112.7,280.7 112.9,280.7 113.2,280.5 113.4,280.3 113.7,280.1 113.9,279.8 114.2,279.6 114.4,279.5 114.7,279.3 114.9,279.0 115.2,278.8 115.4,278.7 115.7,278.6 115.9,278.6 116.2,278.7 116.4,278.8 116.7,279.1 116.9,279.3 117.2,279.6 117.4,279.9 117.7,280.1 117.9,280.3 118.2,280.5 118.4,280.6 118.7,280.7 118.9,280.8 119.2,280.9 119.4,280.9 119.7,281.0 119.9,281.0 120.2,281.0 120.4,281.0 120.7,281.0 120.9,281.1 121.2,281.1 121.4,281.1 121.7,281.2 121.9,281.2 122.2,281.2 122.4,281.2 122.7,281.2 122.9,281.2 123.2,281.2 123.4,281.2 123.7,281.3 123.9,281.3 124.2,281.3 124.4,281.2 124.7,281.1 124.9,281.1 125.2,281.1 125.4,281.2 125.7,281.3 125.9,281.4 126.2,281.4 126.4,281.5 126.7,281.5 126.9,281.5 127.2,281.5 127.4,281.4 127.7,281.3 127.9,281.2 128.2,281.2 128.4,281.0 128.7,280.9 128.9,280.8 129.2,280.8 129.4,280.8 129.7,280.9 129.9,280.9 130.2,281.0 130.4,281.0 130.7,281.0 130.9,281.0 131.2,280.8 131.4,280.6 131.7,280.2 131.9,279.8 132.2,279.3 132.4,278.7 132.7,277.9 132.9,276.8 133.2,275.6 133.4,274.1 133.7,272.6 133.9,271.2 134.2,270.2 134.4,270.0 134.7,270.4 134.9,271.4 135.2,272.7 135.4,274.1 135.7,275.5 135.9,276.7 136.2,277.8 136.4,278.7 136.7,279.5 136.9,280.1 137.2,280.5 137.4,280.8 137.7,281.0 137.9,281.1 138.2,281.3 138.4,281.5 138.7,281.7 138.9,281.8 139.2,281.9 139.4,282.0 139.7,282.0 139.9,282.0 140.2,282.0 140.4,282.0 140.7,282.0 140.9,282.0 141.2,282.0 141.4,281.9 141.7,281.9 141.9,281.8 142.2,281.8 142.4,281.8 142.7,281.8 142.9,281.8 143.2,281.9 143.4,281.9 143.7,281.9 143.9,282.0 144.2,282.0 144.4,282.1 144.7,282.1 144.9,282.2 145.2,282.2 145.4,282.2 145.7,282.1 145.9,282.1 146.2,282.0 146.4,281.9 146.7,281.8 146.9,281.7 147.2,281.6 147.4,281.5 147.7,281.4 147.9,281.3 148.2,281.2 148.4,281.1 148.7,281.0 148.9,280.8 149.2,280.6 149.4,280.4 149.7,280.2 149.9,280.0 150.2,279.9 150.4,279.8 150.7,279.8 150.9,279.8 151.2,279.9 151.4,280.0 151.7,280.1 151.9,280.2 152.2,280.3 152.4,280.5 152.7,280.6 152.9,280.7 153.2,280.7 153.4,280.6 153.7,280.5 153.9,280.4 154.2,280.1 154.4,279.8 154.7,279.4 154.9,279.0 155.2,278.6 155.4,278.1 155.7,277.6 155.9,276.9 156.2,276.1 156.4,275.0 156.7,273.8 156.9,272.2 157.2,270.4 157.4,268.0 157.7,265.0 157.9,261.0 158.2,255.5 158.4,247.6 158.7,236.6 158.9,222.4 159.2,207.2 159.4,197.9 159.7,199.5 159.9,205.2 160.2,211.7 160.4,222.2 160.7,234.5 160.9,245.1 161.2,252.9 161.4,258.1 161.7,261.5 161.9,263.5 162.2,264.5 162.4,264.5 162.7,263.5 162.9,261.3 163.2,257.3 163.4,251.2 163.7,242.6 163.9,232.3 164.2,223.0 164.4,219.7 164.7,222.4 164.9,226.6 165.2,232.5 165.4,241.0 165.7,249.9 165.9,257.3 166.2,262.7 166.4,266.6 166.7,269.3 166.9,271.2 167.2,272.7 167.4,273.9 167.7,274.9 167.9,275.6 168.2,276.1 168.4,276.4 168.7,276.5 168.9,276.5 169.2,276.3 169.4,275.8 169.7,275.1 169.9,274.0 170.2,272.3 170.4,269.9 170.7,266.7 170.9,262.7 171.2,258.3 171.4,253.9 171.7,251.0 171.9,250.4 172.2,251.6 172.4,253.8 172.7,257.0 172.9,260.9 173.2,265.0 173.4,268.6 173.7,271.4 173.9,273.7 174.2,275.3 174.4,276.6 174.7,277.6 174.9,278.3 175.2,278.9 175.4,279.4 175.7,279.8 175.9,280.1 176.2,280.3 176.4,280.5 176.7,280.6 176.9,280.7 177.2,280.8 177.4,280.9 177.7,281.0 177.9,281.0 178.2,281.0 178.4,281.0 178.7,281.0 178.9,280.9 179.2,280.7 179.4,280.4 179.7,280.1 179.9,279.9 180.2,279.7 180.4,279.8 180.7,279.9 180.9,280.1 181.2,280.4 181.4,280.7 181.7,281.1 181.9,281.5 182.2,281.8 182.4,282.0 182.7,282.3 182.9,282.4 183.2,282.7 183.4,283.0 183.7,283.3 183.9,283.5 184.2,283.6 184.4,283.5 184.7,283.5 184.9,283.4 185.2,283.4 185.4,283.5 185.7,283.5 185.9,283.6 186.2,283.4 186.4,283.1 186.7,282.8 186.9,282.5 187.2,282.2 187.4,281.9 187.7,281.6 187.9,281.3 188.2,281.0 188.4,280.9 188.7,280.6 188.9,280.3 189.2,279.7 189.4,279.0 189.7,278.1 189.9,276.9 190.2,275.5 190.4,273.8 190.7,272.0 190.9,270.2 191.2,268.6 191.4,267.7 191.7,267.4 191.9,267.8 192.2,268.6 192.4,269.8 192.7,271.2 192.9,272.7 193.2,274.3 193.4,275.7 193.7,276.9 193.9,277.9 194.2,278.7 194.4,279.3 194.7,279.8 194.9,280.1 195.2,280.4 195.4,280.7 195.7,281.0 195.9,281.2 196.2,281.4 196.4,281.6 196.7,281.8 196.9,282.0 197.2,282.1 197.4,282.2 197.7,282.2 197.9,282.3 198.2,282.3 198.4,282.4 198.7,282.4 198.9,282.5 199.2,282.5 199.4,282.4 199.7,282.4 199.9,282.3 200.2,282.2 200.4,282.2 200.7,282.1 200.9,282.0 201.2,281.9 201.4,281.8 201.7,281.6 201.9,281.4 202.2,281.1 202.4,280.8 202.7,280.3 202.9,279.8 203.2,279.3 203.4,278.6 203.7,277.7 203.9,276.6 204.2,274.9 204.4,272.5 204.7,269.2 204.9,264.6 205.2,258.4 205.4,250.6 205.7,242.7 205.9,238.2 206.2,239.1 206.4,242.2 206.7,244.9 206.9,248.9 207.2,255.0 207.4,261.5 207.7,266.8 207.9,270.8 208.2,273.6 208.4,275.5 208.7,276.8 208.9,277.8 209.2,278.7 209.4,279.5 209.7,280.1 209.9,280.7 210.2,281.0 210.4,281.3 210.7,281.5 210.9,281.7 211.2,281.8 211.4,282.0 211.7,282.1 211.9,282.2 212.2,282.3 212.4,282.5 212.7,282.6 212.9,282.7 213.2,282.7 213.4,282.7 213.7,282.6 213.9,282.6 214.2,282.6 214.4,282.6 214.7,282.5 214.9,282.5 215.2,282.4 215.4,282.3 215.7,282.2 215.9,282.1 216.2,282.2 216.4,282.3 216.7,282.4 216.9,282.4 217.2,282.4 217.4,282.2 217.7,281.9 217.9,281.6 218.2,281.3 218.4,280.9 218.7,280.4 218.9,279.7 219.2,278.9 219.4,277.9 219.7,276.7 219.9,275.1 220.2,273.3 220.4,271.2 220.7,268.9 220.9,266.5 221.2,264.2 221.4,262.4 221.7,261.5 221.9,261.6 222.2,262.4 222.4,264.0 222.7,266.0 222.9,268.3 223.2,270.7 223.4,273.0 223.7,275.1 223.9,276.8 224.2,278.3 224.4,279.6 224.7,280.7 224.9,281.6 225.2,282.2 225.4,282.6 225.7,282.9 225.9,283.2 226.2,283.5 226.4,283.8 226.7,284.1 226.9,284.3 227.2,284.5 227.4,284.8 227.7,285.0 227.9,285.2 228.2,285.4 228.4,285.6 228.7,285.8 228.9,285.9 229.2,286.1 229.4,286.2 229.7,286.3 229.9,286.4 230.2,286.4 230.4,286.4 230.7,286.3 230.9,286.2 231.2,286.2 231.4,286.3 231.7,286.3 231.9,286.4 232.2,286.4 232.4,286.5 232.7,286.5 232.9,286.5 233.2,286.5 233.4,286.5 233.7,286.5 233.9,286.4 234.2,286.4 234.4,286.4 234.7,286.4 234.9,286.4 235.2,286.5 235.4,286.7 235.7,286.8 235.9,287.0 236.2,287.1 236.4,287.1 236.7,287.2 236.9,287.3 237.2,287.3 237.4,287.3 237.7,287.3 237.9,287.3 238.2,287.4 238.4,287.5 238.7,287.6 238.9,287.6 239.2,287.6 239.4,287.5 239.7,287.4 239.9,287.3 240.2,287.3 240.4,287.4 240.7,287.4 240.9,287.5 241.2,287.5 241.4,287.5 241.7,287.4 241.9,287.4 242.2,287.4 242.4,287.4 242.7,287.4 242.9,287.4 243.2,287.4 243.4,287.4 243.7,287.5 243.9,287.5 244.2,287.5 244.4,287.5 244.7,287.5 244.9,287.5 245.2,287.5 245.4,287.5 245.7,287.5 245.9,287.5 246.2,287.5 246.4,287.5 246.7,287.5 246.9,287.5 247.2,287.5 247.4,287.6 247.7,287.7 247.9,287.8 248.2,287.8 248.4,287.7 248.7,287.6 248.9,287.5 249.2,287.5 249.4,287.5 249.7,287.5 249.9,287.6 250.2,287.6 250.4,287.6 250.7,287.6 250.9,287.5 251.2,287.5 251.4,287.4 251.7,287.4 251.9,287.3 252.2,287.3 252.4,287.3 252.7,287.3 252.9,287.4 253.2,287.3 253.4,287.2 253.7,287.1 253.9,287.0 254.2,287.0 254.4,287.1 254.7,287.1 254.9,287.2 255.2,287.1 255.4,287.0 255.7,286.9 255.9,286.7 256.1,286.6 256.4,286.5 256.6,286.4 256.9,286.3 257.1,286.2 257.4,286.1 257.6,286.0 257.9,285.8 258.1,285.7 258.4,285.6 258.6,285.4 258.9,285.3 259.1,285.2 259.4,285.1 259.6,285.1 259.9,285.1 260.1,285.2 260.4,285.3 260.6,285.4 260.9,285.6 261.1,285.7 261.4,285.8 261.6,285.8 261.9,285.9 262.1,285.9 262.4,285.9 262.6,285.9 262.9,285.8 263.1,285.8 263.4,285.8 263.6,285.7 263.9,285.6 264.1,285.5 264.4,285.2 264.6,284.9 264.9,284.5 265.1,284.0 265.4,283.4 265.6,282.7 265.9,282.0 266.1,281.4 266.4,281.1 266.6,280.9 266.9,280.9 267.1,281.1 267.4,281.4 267.6,281.7 267.9,282.2 268.1,282.8 268.4,283.3 268.6,283.8 268.9,284.3 269.1,284.7 269.4,285.2 269.6,285.6 269.9,285.9 270.1,286.1 270.4,286.3 270.6,286.3 270.9,286.4 271.1,286.5 271.4,286.5 271.6,286.6 271.9,286.7 272.1,286.8 272.4,286.9 272.6,287.0 272.9,287.1 273.1,287.1 273.4,287.1 273.6,287.0 273.9,287.0 274.1,287.0 274.4,287.0 274.6,287.1 274.9,287.2 275.1,287.2 275.4,287.1 275.6,287.1 275.9,287.0 276.1,287.0 276.4,287.1 276.6,287.2 276.9,287.3 277.1,287.3 277.4,287.2 277.6,287.2 277.9,287.1 278.1,287.0 278.4,287.0 278.6,287.0 278.9,286.9 279.1,286.8 279.4,286.7 279.6,286.5 279.9,286.3 280.1,286.2 280.4,286.2 280.6,286.2 280.9,286.2 281.1,286.3 281.4,286.4 281.6,286.5 281.9,286.7 282.1,286.8 282.4,286.8 282.6,286.9 282.9,287.0 283.1,287.0 283.4,286.9 283.6,286.8 283.9,286.7 284.1,286.8 284.4,287.0 284.6,287.1 284.9,287.2 285.1,287.3 285.4,287.4 285.6,287.5 285.9,287.6 286.1,287.6 286.4,287.5 286.6,287.5 286.9,287.4 287.1,287.5 287.4,287.6 287.6,287.7 287.9,287.8 288.1,287.8 288.4,287.7 288.6,287.6 288.9,287.5 289.1,287.5 289.4,287.5 289.6,287.5 289.9,287.5 290.1,287.6 290.4,287.7 290.6,287.8 290.9,287.9 291.1,288.0 291.4,288.0 291.6,288.1 291.9,288.2 292.1,288.2 292.4,288.2 292.6,288.3 292.9,288.3 293.1,288.2 293.4,288.1 293.6,288.0 293.9,287.9 294.1,287.7 294.4,287.6 294.6,287.5 294.9,287.4 295.1,287.5 295.4,287.6 295.6,287.6 295.9,287.7 296.1,287.7 296.4,287.7 296.6,287.6 296.9,287.5 297.1,287.5 297.4,287.6 297.6,287.6 297.9,287.7 298.1,287.7 298.4,287.6 298.6,287.6 298.9,287.5 299.1,287.6 299.4,287.7 299.6,287.9 299.9,288.0 300.1,288.1 300.4,288.2 300.6,288.2 300.9,288.3 301.1,288.3 301.4,288.3 301.6,288.3 301.9,288.4 302.1,288.4 302.4,288.3 302.6,288.3 302.9,288.3 303.1,288.3 303.4,288.3 303.6,288.3 303.9,288.3 304.1,288.3 304.4,288.3 304.6,288.3 304.9,288.3 305.1,288.3 305.4,288.4 305.6,288.4 305.9,288.5 306.1,288.5 306.4,288.5 306.6,288.5 306.9,288.5 307.1,288.5 307.4,288.6 307.6,288.6 307.9,288.6 308.1,288.5 308.4,288.5 308.6,288.4 308.9,288.3 309.1,288.3 309.4,288.4 309.6,288.5 309.9,288.6 310.1,288.5 310.4,288.4 310.6,288.3 310.9,288.1 311.1,288.0 311.4,288.0 311.6,287.9 311.9,287.8 312.1,287.8 312.4,287.7 312.6,287.6 312.9,287.6 313.1,287.4 313.4,287.3 313.6,287.2 313.9,287.1 314.1,287.0 314.4,287.0 314.6,287.0 314.9,287.0 315.1,287.1 315.4,287.4 315.6,287.6 315.9,287.9 316.1,288.0 316.4,288.0 316.6,288.1 316.9,288.1 317.1,288.1 317.4,288.2 317.6,288.3 317.9,288.3 318.1,288.3 318.4,288.4 318.6,288.4 318.9,288.4 319.1,288.4 319.4,288.4 319.6,288.4 319.9,288.4 320.1,288.4 320.4,288.3 320.6,288.3 320.9,288.2 321.1,288.2 321.4,288.2 321.6,288.2 321.9,288.2 322.1,288.2 322.4,288.2 322.6,288.2 322.9,288.2 323.1,288.2 323.4,288.2 323.6,288.2 323.9,288.2 324.1,288.1 324.4,288.0 324.6,287.8 324.9,287.6 325.1,287.6 325.4,287.7 325.6,287.8 325.9,287.9 326.1,287.9 326.4,287.8 326.6,287.8 326.9,287.7 327.1,287.5 327.4,287.3 327.6,287.0 327.9,286.8 328.1,286.6 328.4,286.5 328.6,286.4 328.9,286.3 329.1,286.3 329.4,286.3 329.6,286.4 329.9,286.5 330.1,286.7 330.4,286.8 330.6,287.0 330.9,287.2 331.1,287.3 331.4,287.4 331.6,287.5 331.9,287.6 332.1,287.8 332.4,287.9 332.6,288.1 332.9,288.2 333.1,288.3 333.4,288.2 333.6,288.2 333.9,288.2 334.1,288.1 334.4,288.0 334.6,287.9 334.9,287.8 335.1,287.8 335.4,287.7 335.6,287.6 335.9,287.6 336.1,287.5 336.4,287.5 336.6,287.5 336.9,287.5 337.1,287.3 337.4,287.1 337.6,286.8 337.9,286.5 338.1,286.2 338.4,285.9 338.6,285.5 338.9,285.0 339.1,284.4 339.4,283.7 339.6,283.0 339.9,282.4 340.1,281.8 340.4,281.3 340.6,281.1 340.9,281.1 341.1,281.3 341.4,281.6 341.6,282.0 341.9,282.6 342.1,283.1 342.4,283.7 342.6,284.3 342.9,284.8 343.1,285.4 343.4,285.8 343.6,286.3 343.9,286.6 344.1,286.9 344.4,287.1 344.6,287.2 344.9,287.4 345.1,287.5 345.4,287.6 345.6,287.7 345.9,287.7 346.1,287.7 346.4,287.7 346.6,287.7 346.9,287.7 347.1,287.7 347.4,287.8 347.6,287.8 347.9,287.9 348.1,287.9 348.4,287.9 348.6,287.9 348.9,287.8 349.1,287.8 349.4,287.7 349.6,287.7 349.9,287.6 350.1,287.6 350.4,287.7 350.6,287.7 350.9,287.7 351.1,287.7 351.4,287.7 351.6,287.6 351.9,287.5 352.1,287.4 352.4,287.2 352.6,287.0 352.9,286.7 353.1,286.4 353.4,286.2 353.6,285.9 353.9,285.5 354.1,284.9 354.4,284.2 354.6,283.3 354.9,282.1 355.1,280.6 355.4,278.5 355.6,275.6 355.9,271.6 356.1,266.4 356.4,260.1 356.6,254.2 356.9,251.1 357.1,252.5 357.4,256.2 357.6,259.0 357.9,259.8 358.1,259.9 358.4,261.8 358.6,265.8 358.9,270.4 359.1,274.5 359.4,277.6 359.6,280.0 359.9,281.7 360.1,283.0 360.4,284.0 360.6,284.8 360.9,285.4 361.1,285.9 361.4,286.3 361.6,286.6 361.9,286.9 362.1,287.1 362.4,287.4 362.6,287.6 362.9,287.8 363.1,287.9 363.4,287.9 363.6,288.0 363.9,288.0 364.1,288.0 364.4,288.1 364.6,288.2 364.9,288.2 365.1,288.2 365.4,288.2 365.6,288.1 365.9,288.0 366.1,287.9 366.4,287.8 366.6,287.7 366.9,287.6 367.1,287.5 367.4,287.6 367.6,287.6 367.9,287.7 368.1,287.8 368.4,287.9 368.6,288.0 368.9,288.1 369.1,288.0 369.4,287.8 369.6,287.6 369.9,287.4 370.1,287.3 370.4,287.4 370.6,287.4 370.9,287.4 371.1,287.3 371.4,287.1 371.6,287.0 371.9,286.8 372.1,286.7 372.4,286.7 372.6,286.7 372.9,286.7 373.1,286.7 373.4,286.8 373.6,286.9 373.9,287.0 374.1,287.0 374.4,287.1 374.6,287.2 374.9,287.2 375.1,287.2 375.4,287.2 375.6,287.1 375.9,287.1 376.1,287.0 376.4,287.0 376.6,287.0 376.9,287.0 377.1,287.0 377.4,286.9 377.6,286.8 377.9,286.7 378.1,286.5 378.4,286.3 378.6,286.1 378.9,285.8 379.1,285.4 379.4,284.8 379.6,284.2 379.9,283.4 380.1,282.8 380.4,282.1 380.6,281.4 380.9,280.8 381.1,280.2 381.4,279.9 381.6,279.7 381.9,279.8 382.1,280.0 382.4,280.3 382.6,280.8 382.9,281.3 383.1,281.7 383.4,282.1 383.6,282.6 383.9,283.1 384.1,283.6 384.4,284.2 384.6,284.7 384.9,285.1 385.1,285.4 385.4,285.6 385.6,285.8 385.9,285.9 386.1,286.1 386.4,286.3 386.6,286.5 386.9,286.7 387.1,286.9 387.4,287.0 387.6,287.1 387.9,287.2 388.1,287.2 388.4,287.2 388.6,287.1 388.9,287.1 389.1,287.0 389.4,287.0 389.6,286.9 389.9,286.9 390.1,286.9 390.4,287.0 390.6,287.1 390.9,287.1 391.1,287.2 391.4,287.3 391.6,287.3 391.9,287.3 392.1,287.3 392.4,287.2 392.6,287.1 392.9,287.0 393.1,286.9 393.4,286.8 393.6,286.8 393.9,286.7 394.1,286.5 394.4,286.2 394.6,285.9 394.9,285.6 395.1,285.4 395.4,285.2 395.6,285.0 395.9,284.9 396.1,284.7 396.4,284.5 396.6,284.3 396.9,284.2 397.1,284.0 397.4,283.9 397.6,283.9 397.9,283.9 398.1,284.0 398.4,284.2 398.6,284.4 398.9,284.7 399.1,284.8 399.4,284.9 399.6,285.1 399.9,285.2 400.1,285.3 400.4,285.4 400.6,285.5 400.9,285.6 401.1,285.8 401.4,286.1 401.6,286.4 401.9,286.6 402.1,286.8 402.4,286.9 402.6,287.0 402.9,287.0 403.1,287.1 403.4,287.3 403.6,287.4 403.9,287.5 404.1,287.6 404.4,287.6 404.6,287.7 404.9,287.8 405.1,287.9 405.4,287.9 405.6,287.9 405.9,288.0 406.1,288.0 406.4,288.1 406.6,288.2 406.9,288.3 407.1,288.3 407.4,288.3 407.6,288.4 407.9,288.4 408.1,288.3 408.4,288.2 408.6,288.0 408.9,287.8 409.1,287.8 409.4,287.8 409.6,287.9 409.9,287.9 410.1,288.0 410.4,288.2 410.6,288.3 410.9,288.5 411.1,288.5 411.4,288.5 411.6,288.4 411.9,288.3 412.1,288.3 412.4,288.4 412.6,288.5 412.9,288.5 413.1,288.5 413.4,288.5 413.6,288.5 413.9,288.4 414.1,288.4 414.4,288.4 414.6,288.3 414.9,288.3 415.1,288.3 415.4,288.5 415.6,288.6 415.9,288.7 416.1,288.7 416.4,288.7 416.6,288.7 416.9,288.7 417.1,288.7 417.4,288.6 417.6,288.5 417.9,288.5 418.1,288.4 418.4,288.5 418.6,288.5 418.9,288.5 419.1,288.4 419.4,288.3 419.6,288.2 419.9,288.0 420.1,287.9 420.4,287.9 420.6,287.8 420.9,287.8 421.1,287.8 421.4,287.8 421.6,287.9 421.9,287.9 422.1,287.9 422.4,287.8 422.6,287.7 422.9,287.5 423.1,287.4 423.4,287.1 423.6,286.9 423.9,286.7 424.1,286.5 424.4,286.4 424.6,286.4 424.9,286.3 425.1,286.3 425.4,286.3 425.6,286.3 425.9,286.3 426.1,286.4 426.4,286.5 426.6,286.7 426.9,286.8 427.1,286.9 427.4,286.9 427.6,287.0 427.9,287.0 428.1,286.9 428.4,286.8 428.6,286.7 428.9,286.5 429.1,286.3 429.4,286.2 429.6,286.1 429.9,285.9 430.1,285.9 430.4,285.8 430.6,285.8 430.9,285.8 431.1,285.8 431.4,285.8 431.6,285.9 431.9,285.9 432.1,286.0 432.4,286.1 432.6,286.2 432.9,286.3 433.1,286.4 433.4,286.4 433.6,286.4 433.9,286.3 434.1,286.2 434.4,286.0 434.6,285.8 434.9,285.5 435.1,285.1 435.4,284.6 435.6,284.0 435.9,283.4 436.1,282.6 436.4,281.7 436.6,280.7 436.9,279.6 437.1,278.6 437.4,277.7 437.6,277.0 437.9,276.4 438.1,276.2 438.4,276.1 438.6,276.3 438.9,276.6 439.1,277.0 439.4,277.5 439.6,278.1 439.9,278.8 440.1,279.5 440.4,280.2 440.6,280.9 440.9,281.6 441.1,282.3 441.4,283.0 441.6,283.6 441.9,284.1 442.1,284.6 442.4,285.1 442.6,285.5 442.9,285.9 443.1,286.1 443.4,286.1 443.6,286.1 443.9,286.1 444.1,286.1 444.4,286.1 444.6,286.0 444.9,285.9 445.1,285.8 445.4,285.8 445.6,285.7 445.9,285.5 446.1,285.3 446.4,285.1 446.6,284.8 446.9,284.3 447.1,283.8 447.4,283.2 447.6,282.6 447.9,282.3 448.1,282.1 448.4,282.1 448.6,282.3 448.9,282.5 449.1,282.6 449.4,282.8 449.6,282.9 449.9,283.2 450.1,283.5 450.4,283.9 450.6,284.3 450.9,284.6 451.1,284.7 451.4,284.8 451.6,284.7 451.9,284.6 452.1,284.3 452.4,284.0 452.6,283.6 452.9,283.0 453.1,282.1 453.4,280.8 453.6,278.9 453.9,276.2 454.1,272.3 454.4,267.2 454.6,261.4 454.9,257.2 455.1,257.4 455.4,261.4 455.6,265.9 455.9,268.6 456.1,269.1 456.4,267.7 456.6,266.4 456.9,267.5 457.1,270.9 457.4,274.8 457.6,278.0 457.9,280.3 458.1,281.9 458.4,283.0 458.6,283.8 458.9,284.4 459.1,284.9 459.4,285.4 459.6,285.9 459.9,286.2 460.1,286.5 460.4,286.8 460.6,287.1 460.9,287.3 461.1,287.4 461.4,287.4 461.6,287.4 461.9,287.4 462.1,287.4 462.4,287.4 462.6,287.4 462.9,287.3 463.1,287.4 463.4,287.4 463.6,287.5 463.9,287.6 464.1,287.6 464.4,287.6 464.6,287.5 464.9,287.5 465.1,287.5 465.4,287.5 465.6,287.4 465.9,287.4 466.1,287.4 466.4,287.5 466.6,287.6 466.9,287.7 467.1,287.7 467.4,287.6 467.6,287.5 467.9,287.4 468.1,287.3 468.4,287.2 468.6,287.2 468.9,287.1 469.1,287.1 469.4,287.0 469.6,287.0 469.9,286.9 470.1,286.9 470.4,286.8 470.6,286.8 470.9,286.7 471.1,286.7 471.4,286.7 471.6,286.7 471.9,286.7 472.1,286.8 472.4,286.8 472.6,286.8 472.9,286.9 473.1,286.9 473.4,287.0 473.6,287.0 473.9,287.1 474.1,287.1 474.4,287.0 474.6,286.9 474.9,286.9 475.1,286.8 475.4,286.7 475.6,286.5 475.9,286.4 476.1,286.2 476.4,285.9 476.6,285.6 476.9,285.3 477.1,285.0 477.4,284.7 477.6,284.3 477.9,283.8 478.1,283.0 478.4,282.1 478.6,281.0 478.9,279.8 479.1,278.4 479.4,277.1 479.6,275.9 479.9,275.2 480.1,275.0 480.4,275.4 480.6,276.1 480.9,276.9 481.1,277.4 481.4,277.7 481.6,278.0 481.9,278.4 482.1,279.0 482.4,279.8 482.6,280.7 482.9,281.4 483.1,281.9 483.4,282.2 483.6,282.1 483.9,281.7 484.1,280.9 484.4,279.6 484.6,278.0 484.9,276.3 485.1,275.4 485.4,275.7 485.6,277.1 485.9,278.6 486.1,279.6 486.4,279.9 486.6,279.7 486.9,279.3 487.1,279.5 487.4,280.3 487.6,281.6 487.9,282.7 488.1,283.6 488.4,284.3 488.6,284.7 488.9,284.9 489.1,285.0 489.4,284.8 489.6,284.7 489.9,284.5 490.1,284.5 490.4,284.7 490.6,284.8 490.9,285.0 491.1,285.1 491.4,285.2 491.6,285.2 491.9,285.3 492.1,285.5 492.4,285.8 492.6,286.1 492.9,286.4 493.1,286.6 493.4,286.7 493.6,286.8 493.9,286.8 494.1,286.9 494.4,286.9 494.6,286.8 494.9,286.8 495.1,286.7 495.4,286.6 495.6,286.5 495.9,286.3 496.1,286.2 496.4,285.9 496.6,285.6 496.9,285.3 497.1,284.9 497.4,284.4 497.6,283.9 497.9,283.2 498.1,282.5 498.4,281.7 498.6,280.9 498.9,280.3 499.1,279.9 499.4,279.9 499.6,280.0 499.9,280.3 500.1,280.6 500.4,281.0 500.6,281.3 500.9,281.6 501.1,281.8 501.4,282.1 501.6,282.5 501.9,282.9 502.1,283.4 502.4,284.0 502.6,284.5 502.9,284.9 503.1,285.3 503.4,285.6 503.6,285.9 503.9,286.1 504.1,286.2 504.4,286.2 504.6,286.1 504.9,286.1 505.1,286.1 505.4,286.2 505.6,286.3 505.9,286.3 506.1,286.4 506.4,286.5 506.6,286.5 506.9,286.5 507.1,286.6 507.4,286.6 507.6,286.6 507.9,286.6 508.1,286.7 508.4,286.7 508.6,286.8 508.9,286.9 509.1,286.8 509.4,286.8 509.6,286.7 509.9,286.6 510.1,286.6 510.4,286.6 510.6,286.6 510.9,286.7 511.1,286.7 511.4,286.7 511.6,286.7 511.9,286.7 512.1,286.8 512.4,286.8 512.6,286.8 512.9,286.9 513.1,286.9 513.4,286.8 513.6,286.8 513.9,286.7 514.1,286.7 514.4,286.6 514.6,286.6 514.9,286.5 515.1,286.5 515.4,286.5 515.6,286.6 515.9,286.6 516.1,286.6 516.4,286.5 516.6,286.4 516.9,286.3 517.1,286.4 517.4,286.6 517.6,286.8 517.9,287.0 518.1,287.1 518.4,287.1 518.6,287.2 518.9,287.2 519.1,287.3 519.4,287.3 519.6,287.3 519.9,287.3 520.1,287.3 520.4,287.4 520.6,287.5 520.9,287.5 521.1,287.5 521.4,287.5 521.6,287.5 521.9,287.4 522.1,287.4 522.4,287.4 522.6,287.3 522.9,287.3 523.1,287.4 523.4,287.5 523.6,287.6 523.9,287.7 524.1,287.7 524.4,287.8 524.6,287.8 524.9,287.8 525.1,287.9 525.4,288.0 525.6,288.1 525.9,288.2 526.1,288.2 526.4,288.2 526.6,288.1 526.9,288.1 527.1,288.0 527.4,288.0 527.6,287.9 527.9,287.9 528.1,287.8 528.4,287.8 528.6,287.8 528.9,287.8 529.1,287.9 529.4,288.1 529.6,288.3 529.9,288.5 530.1,288.5 530.4,288.5 530.6,288.5 530.9,288.4 531.1,288.4 531.4,288.3 531.6,288.3 531.9,288.2 532.1,288.2 532.4,288.1 532.6,288.1 532.9,288.1 533.1,288.0 533.4,288.0 533.6,288.0 533.9,287.9 534.1,288.0 534.4,288.0 534.6,288.1 534.9,288.1 535.1,288.2 535.4,288.2 535.6,288.3 535.9,288.3 536.1,288.4 536.4,288.5 536.6,288.6 536.9,288.6 537.1,288.7 537.4,288.7 537.6,288.8 537.9,288.8 538.1,288.8 538.4,288.7 538.6,288.7 538.9,288.7 539.1,288.6 539.4,288.5 539.6,288.5 539.9,288.4 540.1,288.3 540.4,288.3 540.6,288.2 540.9,288.2 541.1,288.1 541.4,288.0 541.6,287.9 541.9,287.8" fill="none" stroke="#00ff00" stroke-width="1.8" stroke-linejoin="round"/></g>
<g stroke="#000" stroke-width="1.8" fill="none">
<rect x="58.9" y="32.1" width="482.9" height="269.7"/>
<line x1="58.6" y1="121" x2="541.8" y2="121"/>
<line x1="58.6" y1="210.3" x2="541.8" y2="210.3"/>
<line x1="52.3" y1="60" x2="58.6" y2="60"/>
<line x1="52.3" y1="90.7" x2="58.6" y2="90.7"/>
<line x1="52.3" y1="121" x2="58.6" y2="121"/>
<line x1="52.3" y1="147.8" x2="58.6" y2="147.8"/>
<line x1="52.3" y1="178.6" x2="58.6" y2="178.6"/>
<line x1="52.3" y1="210.3" x2="58.6" y2="210.3"/>
<line x1="52.3" y1="225.6" x2="58.6" y2="225.6"/>
<line x1="52.3" y1="264" x2="58.6" y2="264"/>
<line x1="52.3" y1="300.5" x2="58.6" y2="300.5"/>
<line x1="58.70" y1="301.5" x2="58.70" y2="305.5"/>
<line x1="66.14" y1="301.5" x2="66.14" y2="305.5"/>
<line x1="73.57" y1="301.5" x2="73.57" y2="305.5"/>
<line x1="81.00" y1="301.5" x2="81.00" y2="305.5"/>
<line x1="88.44" y1="301.5" x2="88.44" y2="305.5"/>
<line x1="95.88" y1="301.5" x2="95.88" y2="309.5"/>
<line x1="103.31" y1="301.5" x2="103.31" y2="305.5"/>
<line x1="110.75" y1="301.5" x2="110.75" y2="305.5"/>
<line x1="118.18" y1="301.5" x2="118.18" y2="305.5"/>
<line x1="125.61" y1="301.5" x2="125.61" y2="305.5"/>
<line x1="133.05" y1="301.5" x2="133.05" y2="305.5"/>
<line x1="140.49" y1="301.5" x2="140.49" y2="305.5"/>
<line x1="147.92" y1="301.5" x2="147.92" y2="305.5"/>
<line x1="155.36" y1="301.5" x2="155.36" y2="305.5"/>
<line x1="162.79" y1="301.5" x2="162.79" y2="305.5"/>
<line x1="170.22" y1="301.5" x2="170.22" y2="309.5"/>
<line x1="177.66" y1="301.5" x2="177.66" y2="305.5"/>
<line x1="185.09" y1="301.5" x2="185.09" y2="305.5"/>
<line x1="192.53" y1="301.5" x2="192.53" y2="305.5"/>
<line x1="199.96" y1="301.5" x2="199.96" y2="305.5"/>
<line x1="207.40" y1="301.5" x2="207.40" y2="305.5"/>
<line x1="214.83" y1="301.5" x2="214.83" y2="305.5"/>
<line x1="222.27" y1="301.5" x2="222.27" y2="305.5"/>
<line x1="229.70" y1="301.5" x2="229.70" y2="305.5"/>
<line x1="237.14" y1="301.5" x2="237.14" y2="305.5"/>
<line x1="244.57" y1="301.5" x2="244.57" y2="309.5"/>
<line x1="252.01" y1="301.5" x2="252.01" y2="305.5"/>
<line x1="259.44" y1="301.5" x2="259.44" y2="305.5"/>
<line x1="266.88" y1="301.5" x2="266.88" y2="305.5"/>
<line x1="274.31" y1="301.5" x2="274.31" y2="305.5"/>
<line x1="281.75" y1="301.5" x2="281.75" y2="305.5"/>
<line x1="289.19" y1="301.5" x2="289.19" y2="305.5"/>
<line x1="296.62" y1="301.5" x2="296.62" y2="305.5"/>
<line x1="304.06" y1="301.5" x2="304.06" y2="305.5"/>
<line x1="311.49" y1="301.5" x2="311.49" y2="305.5"/>
<line x1="318.92" y1="301.5" x2="318.92" y2="309.5"/>
<line x1="326.36" y1="301.5" x2="326.36" y2="305.5"/>
<line x1="333.79" y1="301.5" x2="333.79" y2="305.5"/>
<line x1="341.23" y1="301.5" x2="341.23" y2="305.5"/>
<line x1="348.66" y1="301.5" x2="348.66" y2="305.5"/>
<line x1="356.10" y1="301.5" x2="356.10" y2="305.5"/>
<line x1="363.53" y1="301.5" x2="363.53" y2="305.5"/>
<line x1="370.97" y1="301.5" x2="370.97" y2="305.5"/>
<line x1="378.40" y1="301.5" x2="378.40" y2="305.5"/>
<line x1="385.84" y1="301.5" x2="385.84" y2="305.5"/>
<line x1="393.27" y1="301.5" x2="393.27" y2="309.5"/>
<line x1="400.71" y1="301.5" x2="400.71" y2="305.5"/>
<line x1="408.14" y1="301.5" x2="408.14" y2="305.5"/>
<line x1="415.58" y1="301.5" x2="415.58" y2="305.5"/>
<line x1="423.01" y1="301.5" x2="423.01" y2="305.5"/>
<line x1="430.45" y1="301.5" x2="430.45" y2="305.5"/>
<line x1="437.88" y1="301.5" x2="437.88" y2="305.5"/>
<line x1="445.32" y1="301.5" x2="445.32" y2="305.5"/>
<line x1="452.75" y1="301.5" x2="452.75" y2="305.5"/>
<line x1="460.19" y1="301.5" x2="460.19" y2="305.5"/>
<line x1="467.62" y1="301.5" x2="467.62" y2="309.5"/>
<line x1="475.06" y1="301.5" x2="475.06" y2="305.5"/>
<line x1="482.49" y1="301.5" x2="482.49" y2="305.5"/>
<line x1="489.93" y1="301.5" x2="489.93" y2="305.5"/>
<line x1="497.36" y1="301.5" x2="497.36" y2="305.5"/>
<line x1="504.80" y1="301.5" x2="504.80" y2="305.5"/>
<line x1="512.24" y1="301.5" x2="512.24" y2="305.5"/>
<line x1="519.67" y1="301.5" x2="519.67" y2="305.5"/>
<line x1="527.11" y1="301.5" x2="527.11" y2="305.5"/>
<line x1="534.54" y1="301.5" x2="534.54" y2="305.5"/>
<line x1="541.98" y1="301.5" x2="541.98" y2="309.5"/>
</g>
<text transform="translate(49.8 64.0) scale(0.95 1)" font-size="13.5" text-anchor="end">10000</text>
<text transform="translate(49.8 94.7) scale(0.95 1)" font-size="13.5" text-anchor="end">2500</text>
<text transform="translate(49.8 125.0) scale(0.95 1)" font-size="13.5" text-anchor="end">0</text>
<text transform="translate(49.8 151.8) scale(0.95 1)" font-size="13.5" text-anchor="end">10000</text>
<text transform="translate(49.8 182.6) scale(0.95 1)" font-size="13.5" text-anchor="end">2500</text>
<text transform="translate(49.8 214.3) scale(0.95 1)" font-size="13.5" text-anchor="end">0</text>
<text transform="translate(49.8 229.6) scale(0.95 1)" font-size="13.5" text-anchor="end">10000</text>
<text transform="translate(49.8 268.0) scale(0.95 1)" font-size="13.5" text-anchor="end">2500</text>
<text transform="translate(49.8 304.5) scale(0.95 1)" font-size="13.5" text-anchor="end">0</text>
<text transform="translate(95.9 320.6) scale(0.95 1)" font-size="13.5" text-anchor="middle">30</text>
<text transform="translate(170.2 320.6) scale(0.95 1)" font-size="13.5" text-anchor="middle">40</text>
<text transform="translate(244.6 320.6) scale(0.95 1)" font-size="13.5" text-anchor="middle">50</text>
<text transform="translate(318.9 320.6) scale(0.95 1)" font-size="13.5" text-anchor="middle">60</text>
<text transform="translate(393.3 320.6) scale(0.95 1)" font-size="13.5" text-anchor="middle">70</text>
<text transform="translate(467.6 320.6) scale(0.95 1)" font-size="13.5" text-anchor="middle">80</text>
<text x="6.3" y="21.6" font-size="14.6">intensity</text>
<text x="10.2" y="37.2" font-size="14.9">(a. u.)</text>
<text x="227.2" y="336.2" font-size="14.5">position (°2Theta)</text>
<text x="60.3" y="117.8" font-size="14.5">8 h</text>
<text x="60.3" y="207.3" font-size="14.5">24 h</text>
<text x="60.3" y="297.3" font-size="14.5">48 h</text>
<text x="177.3" y="18.7" font-size="14.8">1 - α - Ti</text>
<text x="254.1" y="18.7" font-size="14.8">2 - Al</text>
<text x="305" y="18.7" font-size="14.8">3 - Ti<tspan font-size="9.5" dy="1">2</tspan><tspan dy="-1">Al</tspan><tspan font-size="9.5" dy="1">5</tspan></text>
<text x="381.2" y="18.7" font-size="14.8">4 - TiAl<tspan font-size="9.5" dy="1">3</tspan></text>
<text class="p" x="133.5" y="88.4" font-size="14.5" text-anchor="middle">1</text>
<text class="p" x="149.8" y="103.4" font-size="14.5" text-anchor="middle">3</text>
<text class="p" x="149.3" y="44.1" font-size="14.5" text-anchor="middle">1,2</text>
<text class="p" x="165" y="93" font-size="14.5" text-anchor="middle">3</text>
<text class="p" x="171" y="64.6" font-size="14.5" text-anchor="middle">1</text>
<text class="p" x="195" y="104" font-size="14.5" text-anchor="middle">3</text>
<text class="p" x="206" y="58" font-size="14.5" text-anchor="middle">2</text>
<text class="p" x="220.7" y="104.6" font-size="14.5" text-anchor="middle">3</text>
<text class="p" x="267" y="97.7" font-size="14.5" text-anchor="middle">1</text>
<text class="p" x="314.5" y="107.7" font-size="14.5" text-anchor="middle">3</text>
<text class="p" x="340.7" y="99.5" font-size="14.5" text-anchor="middle">1</text>
<text class="p" x="356.8" y="70.3" font-size="14.5" text-anchor="middle">2</text>
<text class="p" x="398.5" y="96.9" font-size="14.5" text-anchor="middle">1,3</text>
<text class="p" x="424.2" y="106.7" font-size="14.5" text-anchor="middle">1</text>
<text class="p" x="439.5" y="99.8" font-size="14.5" text-anchor="middle">1</text>
<text class="p" x="446.7" y="100.7" font-size="14.5" text-anchor="middle">1</text>
<text class="p" x="453.7" y="72.9" font-size="14.5" text-anchor="middle">2</text>
<text class="p" x="484.6" y="92.5" font-size="14.5" text-anchor="middle">2</text>
<text class="p" x="490.2" y="100.0" font-size="14.5" text-anchor="middle">1</text>
<text class="p" x="518.6" y="103.4" font-size="14.5" text-anchor="middle">1,3</text>
<text class="p" x="118.8" y="190.9" font-size="14.5" text-anchor="middle">4</text>
<text class="p" x="134.3" y="178.2" font-size="14.5" text-anchor="middle">1</text>
<text class="p" x="151" y="190.1" font-size="14.5" text-anchor="middle">3</text>
<text class="p" x="147" y="134.5" font-size="14.5" text-anchor="middle">1,2</text>
<text class="p" x="166" y="162.3" font-size="14.5" text-anchor="middle">3</text>
<text class="p" x="171.6" y="157" font-size="14.5" text-anchor="middle">1</text>
<text class="p" x="184.2" y="190.7" font-size="14.5" text-anchor="middle">4</text>
<text class="p" x="192.9" y="190.7" font-size="14.5" text-anchor="middle">3</text>
<text class="p" x="205.6" y="147" font-size="14.5" text-anchor="middle">2</text>
<text class="p" x="222" y="188.8" font-size="14.5" text-anchor="middle">3</text>
<text class="p" x="267.6" y="189.3" font-size="14.5" text-anchor="middle">1</text>
<text class="p" x="314.6" y="198" font-size="14.5" text-anchor="middle">3</text>
<text class="p" x="340.6" y="190.1" font-size="14.5" text-anchor="middle">1</text>
<text class="p" x="357.2" y="158.4" font-size="14.5" text-anchor="middle">2</text>
<text class="p" x="381.7" y="195.9" font-size="14.5" text-anchor="middle">3</text>
<text class="p" x="397.7" y="188.5" font-size="14.5" text-anchor="middle">1,3</text>
<text class="p" x="423.2" y="197.2" font-size="14.5" text-anchor="middle">1</text>
<text class="p" x="430.5" y="197.2" font-size="14.5" text-anchor="middle">3</text>
<text class="p" x="438.8" y="190.1" font-size="14.5" text-anchor="middle">1</text>
<text class="p" x="447.5" y="192.8" font-size="14.5" text-anchor="middle">1</text>
<text class="p" x="454.4" y="165" font-size="14.5" text-anchor="middle">2</text>
<text class="p" x="478" y="193.5" font-size="14.5" text-anchor="middle">3</text>
<text class="p" x="485.6" y="183" font-size="14.5" text-anchor="middle">2</text>
<text class="p" x="492.3" y="188.3" font-size="14.5" text-anchor="middle">3</text>
<text class="p" x="498.8" y="194.6" font-size="14.5" text-anchor="middle">4</text>
<text class="p" x="516.4" y="195.4" font-size="14.5" text-anchor="middle">1,3</text>
<text class="p" x="71.2" y="272.2" font-size="14.5" text-anchor="middle">3</text>
<text class="p" x="116.2" y="275.6" font-size="14.5" text-anchor="middle">4</text>
<text class="p" x="134" y="268.2" font-size="14.5" text-anchor="middle">1</text>
<text class="p" x="150.3" y="277.5" font-size="14.5" text-anchor="middle">3</text>
<text class="p" x="148.3" y="223.6" font-size="14.5" text-anchor="middle">1,2</text>
<text class="p" x="170" y="227.2" font-size="14.5" text-anchor="middle">3</text>
<text class="p" x="171.7" y="249.7" font-size="14.5" text-anchor="middle">1</text>
<text class="p" x="180.5" y="279.3" font-size="14.5" text-anchor="middle">4</text>
<text class="p" x="190.8" y="265" font-size="14.5" text-anchor="middle">3</text>
<text class="p" x="206.1" y="235.9" font-size="14.5" text-anchor="middle">2</text>
<text class="p" x="221.6" y="260.8" font-size="14.5" text-anchor="middle">3</text>
<text class="p" x="258.2" y="281.4" font-size="14.5" text-anchor="middle">3</text>
<text class="p" x="266.5" y="277.5" font-size="14.5" text-anchor="middle">1</text>
<text class="p" x="280.5" y="282.8" font-size="14.5" text-anchor="middle">4</text>
<text class="p" x="316.1" y="283.5" font-size="14.5" text-anchor="middle">3</text>
<text class="p" x="328.4" y="283.5" font-size="14.5" text-anchor="middle">4</text>
<text class="p" x="340.6" y="278.3" font-size="14.5" text-anchor="middle">1</text>
<text class="p" x="357.8" y="248.4" font-size="14.5" text-anchor="middle">2</text>
<text class="p" x="372.3" y="283.4" font-size="14.5" text-anchor="middle">3</text>
<text class="p" x="381.7" y="276.7" font-size="14.5" text-anchor="middle">3</text>
<text class="p" x="398.2" y="276.6" font-size="14.5" text-anchor="middle">1,3</text>
<text class="p" x="423" y="284.6" font-size="14.5" text-anchor="middle">1</text>
<text class="p" x="429.5" y="284.6" font-size="14.5" text-anchor="middle">3</text>
<text class="p" x="438.4" y="273.5" font-size="14.5" text-anchor="middle">1</text>
<text class="p" x="447.5" y="280.1" font-size="14.5" text-anchor="middle">1</text>
<text class="p" x="454.7" y="255" font-size="14.5" text-anchor="middle">2</text>
<text class="p" x="478" y="272.2" font-size="14.5" text-anchor="middle">3</text>
<text class="p" x="484.5" y="272.2" font-size="14.5" text-anchor="middle">2</text>
<text class="p" x="490.6" y="276.1" font-size="14.5" text-anchor="middle">3</text>
<text class="p" x="497.9" y="276.1" font-size="14.5" text-anchor="middle">4</text>
<text class="p" x="516.4" y="281.4" font-size="14.5" text-anchor="middle">1,3</text>
<g stroke="#000" stroke-width="1.1" fill="none">
<path d="M119.9,163.3 V175 M114.9,170 L119.9,175 L124.9,170"/>
<path d="M185.1,165.5 V176.6 M180.1,171.6 L185.1,176.6 L190.1,171.6"/>
<path d="M500.6,170.3 V182.2 M495.6,177.2 L500.6,182.2 L505.6,177.2"/>
<path d="M116.7,251.8 V262.4 M111.7,257.4 L116.7,262.4 L121.7,257.4"/>
<path d="M180.3,252.3 V262.9 M175.3,257.9 L180.3,262.9 L185.3,257.9"/>
<path d="M281.9,255.5 V266.9 M276.9,261.9 L281.9,266.9 L286.9,261.9"/>
<path d="M329.1,258.9 V270.3 M324.1,265.3 L329.1,270.3 L334.1,265.3"/>
<path d="M499.2,251 V261.6 M494.2,256.6 L499.2,261.6 L504.2,256.6"/>
</g>
</svg></body></html>
